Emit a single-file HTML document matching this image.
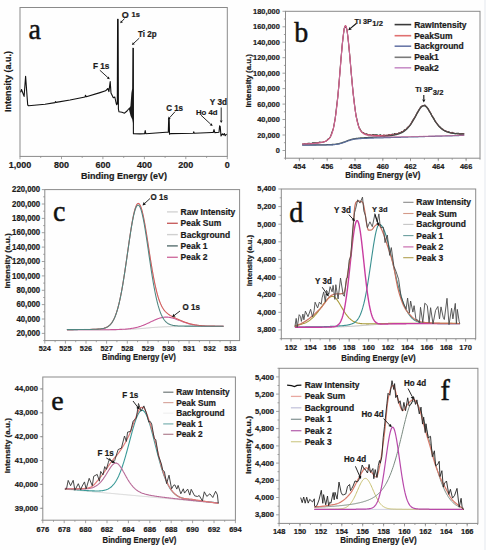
<!DOCTYPE html>
<html><head><meta charset="utf-8"><style>
html,body{margin:0;padding:0;background:#fefefe;}
svg{display:block;}
text{stroke:#1a1a1a;stroke-width:0.2px;}
</style></head><body>
<svg width="486" height="550" viewBox="0 0 486 550">
<rect width="486" height="550" fill="#fefefe"/>
<rect x="484" width="2" height="550" fill="#f1f3f6"/>
<rect x="20" y="7.5" width="207.3" height="148.9" fill="none" stroke="#8a8a8a" stroke-width="1"/>
<path d="M227.3 156.4v2.8M185.8 156.4v2.8M144.4 156.4v2.8M102.9 156.4v2.8M61.5 156.4v2.8M20.0 156.4v2.8" stroke="#8a8a8a" stroke-width="0.8" fill="none"/>
<path d="M206.6 156.4v1.5M165.1 156.4v1.5M123.7 156.4v1.5M82.2 156.4v1.5M40.7 156.4v1.5" stroke="#8a8a8a" stroke-width="0.8" fill="none"/>
<text transform="translate(20.0,168) scale(1,1.03)" font-size="9" text-anchor="middle" font-weight="bold" fill="#1a1a1a" font-family='"Liberation Sans", sans-serif' >1,000</text>
<text transform="translate(61.46000000000001,168) scale(1,1.03)" font-size="9" text-anchor="middle" font-weight="bold" fill="#1a1a1a" font-family='"Liberation Sans", sans-serif' >800</text>
<text transform="translate(102.92000000000002,168) scale(1,1.03)" font-size="9" text-anchor="middle" font-weight="bold" fill="#1a1a1a" font-family='"Liberation Sans", sans-serif' >600</text>
<text transform="translate(144.38,168) scale(1,1.03)" font-size="9" text-anchor="middle" font-weight="bold" fill="#1a1a1a" font-family='"Liberation Sans", sans-serif' >400</text>
<text transform="translate(185.84000000000003,168) scale(1,1.03)" font-size="9" text-anchor="middle" font-weight="bold" fill="#1a1a1a" font-family='"Liberation Sans", sans-serif' >200</text>
<text transform="translate(227.3,168) scale(1,1.03)" font-size="9" text-anchor="middle" font-weight="bold" fill="#1a1a1a" font-family='"Liberation Sans", sans-serif' >0</text>
<text transform="translate(124,178.5) scale(1,1.03)" font-size="9" text-anchor="middle" font-weight="bold" fill="#1a1a1a" font-family='"Liberation Sans", sans-serif' >Binding Energy (eV)</text>
<text transform="translate(10.6,81.5) rotate(-90)" font-size="9" text-anchor="middle" font-weight="bold" fill="#1a1a1a" font-family='"Liberation Sans", sans-serif'>Intensity (a.u.)</text>
<text transform="translate(28.5,39.4) scale(1,1.05)" font-size="28" fill="#111" style="stroke:#111;stroke-width:0.45px" font-family='"Liberation Serif", serif'>a</text>
<path d="M128.8 108.6L130.4 106.2L131.4 93L132.2 88.5L132.5 47.8L133.4 47.8L133.4 125L132.3 119.5L130.6 116L129.6 112Z" fill="#1a1a1a"/>
<path d="M20.6 92.3 L21.5 89.5 L24.1 96.4 L25.6 76.4 L27.7 105 L28.6 105.7 L45 104.2 L55 102.6 L55.4 101.6 L56 102.4 L70 100 L85 97 L85.5 95.2 L86.3 96.8 L100 92.6 L105.6 90.8 L107.9 88.5 L108.9 91.6 L110.2 81.6 L111 93.1 L113.3 97.8 L114.8 97 L116.1 103 L116.7 104.7 L117.3 104 L117.6 19.3 L118.1 19.3 L118.4 109 L119 111.8 L122 112.3 L124.5 113.2 L127 111 L129 108.5 M133.3 48 L133.4 133.8 L140 133.9 L144.6 133.8 L145.2 130.5 L145.8 133.7 L166 132.2 L168.3 132.2 L168.7 118.5 L169.2 118.7 L169.5 134.2 L170.5 133.6 L193.2 133.3 L193.7 131.8 L194.3 133.2 L212 132.5 L213.2 132.5 L214 129.6 L214.8 132.6 L219 132.3 L219.6 125.9 L220.2 126.5 L221 136 L222.4 133.9 L223.3 135 L224.3 133.5 L225.2 135.7 L226.6 134" stroke="#111" stroke-width="1.1" fill="none" stroke-linejoin="round"/>
<text transform="translate(125.2,17.9) scale(1,1.03)" font-size="9" text-anchor="middle" font-weight="bold" fill="#1a1a1a" font-family='"Liberation Sans", sans-serif' >O</text>
<text transform="translate(135.7,17.4) scale(1,1.03)" font-size="7.5" text-anchor="middle" font-weight="bold" fill="#1a1a1a" font-family='"Liberation Sans", sans-serif' >1s</text>
<path d="M124.5 18.5L121.9 21.4" stroke="#111" stroke-width="0.9"/>
<path d="M120.2 23.3L120.9 20.4L123.0 22.3Z" fill="#111"/>
<text transform="translate(147.3,37.3) scale(1,1.03)" font-size="8" text-anchor="middle" font-weight="bold" fill="#1a1a1a" font-family='"Liberation Sans", sans-serif' >Ti 2p</text>
<path d="M139.3 38.1L133.8 43.2" stroke="#111" stroke-width="0.9"/>
<path d="M131.9 45L132.8 42.2L134.8 44.3Z" fill="#111"/>
<text transform="translate(101.2,69.4) scale(1,1.03)" font-size="8.2" text-anchor="middle" font-weight="bold" fill="#1a1a1a" font-family='"Liberation Sans", sans-serif' >F 1s</text>
<path d="M99.8 70.2L107.8 77.5" stroke="#111" stroke-width="0.9"/>
<path d="M109.7 79.3L106.8 78.6L108.7 76.5Z" fill="#111"/>
<text transform="translate(174.6,111.1) scale(1,1.03)" font-size="8" text-anchor="middle" font-weight="bold" fill="#1a1a1a" font-family='"Liberation Sans", sans-serif' >C 1s</text>
<path d="M175.1 111.6L169.7 117.6" stroke="#111" stroke-width="0.9"/>
<path d="M167.9 119.5L168.6 116.6L170.7 118.5Z" fill="#111"/>
<text transform="translate(206.8,114.5) scale(1,1.03)" font-size="7.8" text-anchor="middle" font-weight="bold" fill="#1a1a1a" font-family='"Liberation Sans", sans-serif' >Ho 4d</text>
<path d="M201 115.2L210.7 124.2" stroke="#111" stroke-width="0.9"/>
<path d="M212.6 126L209.7 125.3L211.7 123.2Z" fill="#111"/>
<text transform="translate(218.4,105.4) scale(1,1.03)" font-size="8.2" text-anchor="middle" font-weight="bold" fill="#1a1a1a" font-family='"Liberation Sans", sans-serif' >Y 3d</text>
<path d="M221.2 107.5L221.2 120.5" stroke="#111" stroke-width="0.9"/>
<path d="M221.2 123.1L219.8 120.5L222.6 120.5Z" fill="#111"/>
<rect x="285.5" y="11.3" width="194.5" height="146.9" fill="none" stroke="#8a8a8a" stroke-width="1"/>
<path d="M285.5 150.5h-3M285.5 135.0h-3M285.5 119.5h-3M285.5 104.1h-3M285.5 88.6h-3M285.5 73.2h-3M285.5 57.7h-3M285.5 42.2h-3M285.5 26.8h-3M285.5 11.3h-3" stroke="#8a8a8a" stroke-width="0.8" fill="none"/>
<path d="M285.5 158.2h-1.6M285.5 142.7h-1.6M285.5 127.3h-1.6M285.5 111.8h-1.6M285.5 96.3h-1.6M285.5 80.9h-1.6M285.5 65.4h-1.6M285.5 50.0h-1.6M285.5 34.5h-1.6M285.5 19.0h-1.6" stroke="#8a8a8a" stroke-width="0.8" fill="none"/>
<path d="M299.4 158.2v3M327.2 158.2v3M355.0 158.2v3M382.8 158.2v3M410.5 158.2v3M438.3 158.2v3M466.1 158.2v3" stroke="#8a8a8a" stroke-width="0.8" fill="none"/>
<path d="M285.5 158.2v1.6M299.4 158.2v1.6M313.3 158.2v1.6M327.2 158.2v1.6M341.1 158.2v1.6M355.0 158.2v1.6M368.9 158.2v1.6M382.8 158.2v1.6M396.6 158.2v1.6M410.5 158.2v1.6M424.4 158.2v1.6M438.3 158.2v1.6M452.2 158.2v1.6M466.1 158.2v1.6M480.0 158.2v1.6" stroke="#8a8a8a" stroke-width="0.8" fill="none"/>
<text transform="translate(279.8,152.9) scale(1,1.06)" font-size="7.4" text-anchor="end" font-weight="bold" fill="#1a1a1a" font-family='"Liberation Sans", sans-serif' >0</text>
<text transform="translate(279.8,137.5) scale(1,1.06)" font-size="7.4" text-anchor="end" font-weight="bold" fill="#1a1a1a" font-family='"Liberation Sans", sans-serif' >20,000</text>
<text transform="translate(279.8,122.0) scale(1,1.06)" font-size="7.4" text-anchor="end" font-weight="bold" fill="#1a1a1a" font-family='"Liberation Sans", sans-serif' >40,000</text>
<text transform="translate(279.8,106.5) scale(1,1.06)" font-size="7.4" text-anchor="end" font-weight="bold" fill="#1a1a1a" font-family='"Liberation Sans", sans-serif' >60,000</text>
<text transform="translate(279.8,91.1) scale(1,1.06)" font-size="7.4" text-anchor="end" font-weight="bold" fill="#1a1a1a" font-family='"Liberation Sans", sans-serif' >80,000</text>
<text transform="translate(279.8,75.6) scale(1,1.06)" font-size="7.4" text-anchor="end" font-weight="bold" fill="#1a1a1a" font-family='"Liberation Sans", sans-serif' >100,000</text>
<text transform="translate(279.8,60.1) scale(1,1.06)" font-size="7.4" text-anchor="end" font-weight="bold" fill="#1a1a1a" font-family='"Liberation Sans", sans-serif' >120,000</text>
<text transform="translate(279.8,44.7) scale(1,1.06)" font-size="7.4" text-anchor="end" font-weight="bold" fill="#1a1a1a" font-family='"Liberation Sans", sans-serif' >140,000</text>
<text transform="translate(279.8,29.2) scale(1,1.06)" font-size="7.4" text-anchor="end" font-weight="bold" fill="#1a1a1a" font-family='"Liberation Sans", sans-serif' >160,000</text>
<text transform="translate(279.8,13.8) scale(1,1.06)" font-size="7.4" text-anchor="end" font-weight="bold" fill="#1a1a1a" font-family='"Liberation Sans", sans-serif' >180,000</text>
<text transform="translate(299.4,169) scale(1,1.06)" font-size="7.4" text-anchor="middle" font-weight="bold" fill="#1a1a1a" font-family='"Liberation Sans", sans-serif' >454</text>
<text transform="translate(327.2,169) scale(1,1.06)" font-size="7.4" text-anchor="middle" font-weight="bold" fill="#1a1a1a" font-family='"Liberation Sans", sans-serif' >456</text>
<text transform="translate(355.0,169) scale(1,1.06)" font-size="7.4" text-anchor="middle" font-weight="bold" fill="#1a1a1a" font-family='"Liberation Sans", sans-serif' >458</text>
<text transform="translate(382.8,169) scale(1,1.06)" font-size="7.4" text-anchor="middle" font-weight="bold" fill="#1a1a1a" font-family='"Liberation Sans", sans-serif' >460</text>
<text transform="translate(410.5,169) scale(1,1.06)" font-size="7.4" text-anchor="middle" font-weight="bold" fill="#1a1a1a" font-family='"Liberation Sans", sans-serif' >462</text>
<text transform="translate(438.3,169) scale(1,1.06)" font-size="7.4" text-anchor="middle" font-weight="bold" fill="#1a1a1a" font-family='"Liberation Sans", sans-serif' >464</text>
<text transform="translate(466.1,169) scale(1,1.06)" font-size="7.4" text-anchor="middle" font-weight="bold" fill="#1a1a1a" font-family='"Liberation Sans", sans-serif' >466</text>
<text transform="translate(382.8,177.9) scale(1,1.06)" font-size="7.85" text-anchor="middle" font-weight="bold" fill="#1a1a1a" font-family='"Liberation Sans", sans-serif' >Binding Energy (eV)</text>
<text transform="translate(250.95,80.8) rotate(-90) scale(1.042,1)" font-size="7.6" text-anchor="middle" font-weight="bold" fill="#1a1a1a" font-family='"Liberation Sans", sans-serif'>Intensity (a.u.)</text>
<text transform="translate(294.2,42.3) scale(1,1.05)" font-size="28" fill="#111" style="stroke:#111;stroke-width:0.45px" font-family='"Liberation Serif", serif'>b</text>
<path d="M302.2,144.1 303.4,144.1 305.0,143.7 306.3,144.2 308.1,143.2 309.8,143.2 311.4,143.8 312.7,142.8 314.4,142.7 315.8,142.7 317.7,142.9 319.6,142.1 321.1,142.4 322.7,142.2 324.5,141.7 326.3,141.0 328.0,139.0 329.3,138.5 330.5,136.6 331.8,132.7 333.4,128.4 335.2,118.4 336.5,107.4 337.8,96.8 338.9,84.8 340.7,62.0 342.3,44.0 344.2,28.2 345.5,25.8 347.0,30.0 348.1,39.0 349.7,55.0 351.4,74.9 353.1,92.6 354.7,105.9 356.0,115.5 357.8,123.0 359.1,127.8 360.3,129.4 361.7,132.1 363.5,132.8 365.3,134.1 366.9,133.9 368.1,135.0 369.9,134.7 371.6,135.2 373.0,134.6 374.1,134.7 375.5,134.7 377.3,134.9 378.6,135.6 380.2,134.6 382.0,135.8 383.9,135.1 385.1,135.5 386.5,135.4 387.8,135.3 389.1,134.5 390.4,135.2 392.1,134.1 393.2,134.6 394.7,133.5 395.8,134.1 397.7,133.6 399.0,132.8 400.6,132.6 401.8,131.5 402.9,131.6 404.6,129.7 406.1,129.3 407.5,127.4 409.0,126.1 410.5,124.6 412.3,121.1 413.5,119.0 415.3,116.7 416.4,114.1 418.1,111.2 420.0,108.0 421.2,106.3 423.1,106.0 424.8,105.0 426.5,106.6 428.1,108.6 429.4,111.3 430.7,113.0 431.9,115.8 433.6,117.9 435.2,121.3 437.1,123.5 439.0,126.2 440.2,127.0 441.5,128.8 442.8,129.1 444.4,130.6 445.9,130.9 447.2,131.7 448.7,131.8 450.5,132.8 452.3,132.4 453.8,133.2 455.5,133.7 456.7,133.2 458.5,133.3 459.8,134.2 461.0,133.8 462.5,133.6 464.0,133.9 464.2,134.0" stroke="#2e3a30" stroke-width="1.1" fill="none" stroke-linejoin="round" opacity="1"/>
<path d="M302.2,144.1 302.8,144.1 303.4,144.1 304.0,144.0 304.6,144.0 305.2,144.0 305.8,144.0 306.4,143.9 307.0,143.9 307.6,143.9 308.2,143.8 308.8,143.8 309.4,143.8 310.0,143.7 310.6,143.7 311.2,143.6 311.8,143.6 312.4,143.5 313.0,143.5 313.6,143.4 314.2,143.4 314.8,143.3 315.4,143.3 316.0,143.2 316.6,143.1 317.2,143.0 317.8,143.0 318.4,142.9 319.0,142.8 319.6,142.7 320.2,142.6 320.8,142.5 321.4,142.4 322.0,142.2 322.6,142.1 323.2,141.9 323.8,141.8 324.4,141.6 325.0,141.4 325.6,141.1 326.2,140.9 326.8,140.5 327.4,140.1 328.0,139.7 328.6,139.1 329.2,138.5 329.8,137.7 330.4,136.7 331.0,135.6 331.6,134.2 332.2,132.5 332.8,130.5 333.4,128.2 334.0,125.4 334.6,122.2 335.2,118.5 335.8,114.3 336.4,109.6 337.0,104.4 337.6,98.6 338.2,92.4 338.8,85.8 339.4,78.8 340.0,71.6 340.6,64.3 341.2,57.0 341.8,50.1 342.4,43.5 343.0,37.7 343.6,32.8 344.2,29.0 344.8,26.6 345.4,25.6 346.0,26.1 346.6,28.0 347.2,31.3 347.8,35.7 348.4,41.1 349.0,47.2 349.6,53.8 350.2,60.7 350.8,67.6 351.4,74.5 352.0,81.2 352.6,87.6 353.2,93.6 353.8,99.1 354.4,104.2 355.0,108.7 355.6,112.8 356.2,116.3 356.8,119.4 357.4,122.0 358.0,124.3 358.6,126.2 359.2,127.7 359.8,129.0 360.4,130.1 361.0,131.0 361.6,131.7 362.2,132.3 362.8,132.8 363.4,133.2 364.0,133.6 364.6,133.8 365.2,134.1 365.8,134.3 366.4,134.4 367.0,134.6 367.6,134.7 368.2,134.8 368.8,134.9 369.4,135.0 370.0,135.1 370.6,135.1 371.2,135.2 371.8,135.2 372.4,135.3 373.0,135.3 373.6,135.4 374.2,135.4 374.8,135.4 375.4,135.5 376.0,135.5 376.6,135.5 377.2,135.5 377.8,135.5 378.4,135.5 379.0,135.5 379.6,135.5 380.2,135.5 380.8,135.5 381.4,135.5 382.0,135.5 382.6,135.5 383.2,135.4 383.8,135.4 384.4,135.4 385.0,135.4 385.6,135.3 386.2,135.3 386.8,135.3 387.4,135.2 388.0,135.2 388.6,135.1 389.2,135.1 389.8,135.0 390.4,134.9 391.0,134.9 391.6,134.8 392.2,134.7 392.8,134.7 393.4,134.6 394.0,134.5 394.6,134.4 395.2,134.2 395.8,134.1 396.4,134.0 397.0,133.9 397.6,133.7 398.2,133.5 398.8,133.3 399.4,133.1 400.0,132.9 400.6,132.7 401.2,132.4 401.8,132.1 402.4,131.8 403.0,131.5 403.6,131.1 404.2,130.7 404.8,130.3 405.4,129.9 406.0,129.4 406.6,128.8 407.2,128.3 407.8,127.6 408.4,127.0 409.0,126.3 409.6,125.5 410.2,124.8 410.8,123.9 411.4,123.1 412.0,122.1 412.6,121.2 413.2,120.2 413.8,119.2 414.4,118.1 415.0,117.0 415.6,116.0 416.2,114.8 416.8,113.7 417.4,112.6 418.0,111.6 418.6,110.5 419.2,109.6 419.8,108.6 420.4,107.8 421.0,107.1 421.6,106.5 422.2,106.0 422.8,105.6 423.4,105.5 424.0,105.4 424.6,105.5 425.2,105.8 425.8,106.3 426.4,106.8 427.0,107.5 427.6,108.3 428.2,109.2 428.8,110.1 429.4,111.1 430.0,112.1 430.6,113.2 431.2,114.3 431.8,115.4 432.4,116.4 433.0,117.5 433.6,118.5 434.2,119.5 434.8,120.5 435.4,121.4 436.0,122.3 436.6,123.2 437.2,124.0 437.8,124.8 438.4,125.5 439.0,126.2 439.6,126.8 440.2,127.4 440.8,128.0 441.4,128.5 442.0,129.0 442.6,129.4 443.2,129.8 443.8,130.2 444.4,130.5 445.0,130.8 445.6,131.1 446.2,131.4 446.8,131.6 447.4,131.9 448.0,132.1 448.6,132.2 449.2,132.4 449.8,132.6 450.4,132.7 451.0,132.8 451.6,132.9 452.2,133.0 452.8,133.1 453.4,133.2 454.0,133.3 454.6,133.4 455.2,133.4 455.8,133.5 456.4,133.6 457.0,133.6 457.6,133.7 458.2,133.7 458.8,133.7 459.4,133.8 460.0,133.8 460.6,133.8 461.2,133.9 461.8,133.9 462.4,133.9 463.0,134.0 464.2,134.0" stroke="#d4506e" stroke-width="1.1" fill="none" stroke-linejoin="round" opacity="1"/>
<path d="M302.2,144.9 302.8,144.9 303.4,144.9 304.0,144.9 304.6,144.9 305.2,144.9 305.8,144.9 306.4,144.9 307.0,144.9 307.6,144.9 308.2,144.9 308.8,144.9 309.4,144.9 310.0,144.9 310.6,144.9 311.2,144.9 311.8,144.9 312.4,144.9 313.0,144.9 313.6,144.9 314.2,144.9 314.8,144.9 315.4,144.9 316.0,144.9 316.6,144.9 317.2,144.8 317.8,144.8 318.4,144.8 319.0,144.8 319.6,144.8 320.2,144.8 320.8,144.8 321.4,144.8 322.0,144.8 322.6,144.8 323.2,144.8 323.8,144.8 324.4,144.8 325.0,144.8 325.6,144.8 326.2,144.8 326.8,144.7 327.4,144.7 328.0,144.7 328.6,144.7 329.2,144.7 329.8,144.7 330.4,144.6 331.0,144.6 331.6,144.6 332.2,144.5 332.8,144.5 333.4,144.4 334.0,144.4 334.6,144.3 335.2,144.3 335.8,144.2 336.4,144.1 337.0,144.0 337.6,143.9 338.2,143.8 338.8,143.7 339.4,143.5 340.0,143.4 340.6,143.2 341.2,143.0 341.8,142.8 342.4,142.6 343.0,142.4 343.6,142.2 344.2,142.0 344.8,141.8 345.4,141.5 346.0,141.3 346.6,141.1 347.2,140.8 347.8,140.6 348.4,140.4 349.0,140.2 349.6,140.0 350.2,139.8 350.8,139.6 351.4,139.4 352.0,139.3 352.6,139.1 353.2,139.0 353.8,138.9 354.4,138.8 355.0,138.7 355.6,138.6 356.2,138.5 356.8,138.4 357.4,138.3 358.0,138.3 358.6,138.2 359.2,138.1 359.8,138.1 360.4,138.0 361.0,138.0 361.6,137.9 362.2,137.9 362.8,137.9 363.4,137.8 364.0,137.8 364.6,137.7 365.2,137.7 365.8,137.7 366.4,137.6 367.0,137.6 367.6,137.6 368.2,137.5 368.8,137.5 369.4,137.4 370.0,137.4 370.6,137.4 371.2,137.3 371.8,137.3 372.4,137.3 373.0,137.2 373.6,137.2 374.2,137.1 374.8,137.1 375.4,137.1 376.0,137.0 376.6,137.0 377.2,136.9 377.8,136.9 378.4,136.9 379.0,136.8 379.6,136.8 380.2,136.7 380.8,136.7 381.4,136.6 382.0,136.6 382.6,136.5 383.2,136.5 383.8,136.4 384.4,136.4 385.0,136.3 385.6,136.2 386.2,136.2 386.8,136.1 387.4,136.1 388.0,136.0 388.6,135.9 389.2,135.8 389.8,135.8 390.4,135.7 391.0,135.6 391.6,135.5 392.2,135.4 392.8,135.3 393.4,135.2 394.0,135.1 394.6,135.0 395.2,134.8 395.8,134.7 396.4,134.6 397.0,134.4 397.6,134.2 398.2,134.1 398.8,133.9 399.4,133.7 400.0,133.4 400.6,133.2 401.2,132.9 401.8,132.6 402.4,132.3 403.0,132.0 403.6,131.6 404.2,131.2 404.8,130.7 405.4,130.3 406.0,129.8 406.6,129.2 407.2,128.7 407.8,128.0 408.4,127.4 409.0,126.7 409.6,125.9 410.2,125.1 410.8,124.3 411.4,123.4 412.0,122.5 412.6,121.5 413.2,120.5 413.8,119.5 414.4,118.4 415.0,117.4 415.6,116.3 416.2,115.1 416.8,114.0 417.4,112.9 418.0,111.9 418.6,110.8 419.2,109.8 419.8,108.9 420.4,108.1 421.0,107.3 421.6,106.7 422.2,106.2 422.8,105.9 423.4,105.7 424.0,105.7 424.6,105.8 425.2,106.1 425.8,106.5 426.4,107.0 427.0,107.7 427.6,108.5 428.2,109.4 428.8,110.3 429.4,111.3 430.0,112.3 430.6,113.4 431.2,114.5 431.8,115.6 432.4,116.6 433.0,117.7 433.6,118.7 434.2,119.7 434.8,120.7 435.4,121.6 436.0,122.5 436.6,123.4 437.2,124.2 437.8,124.9 438.4,125.7 439.0,126.3 439.6,127.0 440.2,127.6 440.8,128.1 441.4,128.6 442.0,129.1 442.6,129.6 443.2,130.0 443.8,130.3 444.4,130.7 445.0,131.0 445.6,131.3 446.2,131.5 446.8,131.8 447.4,132.0 448.0,132.2 448.6,132.4 449.2,132.5 449.8,132.7 450.4,132.8 451.0,133.0 451.6,133.1 452.2,133.2 452.8,133.3 453.4,133.3 454.0,133.4 454.6,133.5 455.2,133.6 455.8,133.6 456.4,133.7 457.0,133.7 457.6,133.8 458.2,133.8 458.8,133.9 459.4,133.9 460.0,133.9 460.6,134.0 461.2,134.0 461.8,134.0 462.4,134.0 463.0,134.1 464.2,134.1" stroke="#424c46" stroke-width="1.3" fill="none" stroke-linejoin="round" opacity="1"/>
<path d="M302.2,145.1 302.8,145.1 303.4,145.1 304.0,145.1 304.6,145.1 305.2,145.1 305.8,145.1 306.4,145.1 307.0,145.1 307.6,145.1 308.2,145.1 308.8,145.1 309.4,145.1 310.0,145.1 310.6,145.1 311.2,145.1 311.8,145.1 312.4,145.1 313.0,145.1 313.6,145.1 314.2,145.1 314.8,145.1 315.4,145.1 316.0,145.1 316.6,145.0 317.2,145.0 317.8,145.0 318.4,145.0 319.0,145.0 319.6,145.0 320.2,145.0 320.8,145.0 321.4,145.0 322.0,145.0 322.6,145.0 323.2,145.0 323.8,145.0 324.4,145.0 325.0,145.0 325.6,145.0 326.2,145.0 326.8,145.0 327.4,145.0 328.0,145.0 328.6,144.9 329.2,144.9 329.8,144.9 330.4,144.9 331.0,144.9 331.6,144.8 332.2,144.8 332.8,144.8 333.4,144.7 334.0,144.7 334.6,144.6 335.2,144.5 335.8,144.5 336.4,144.4 337.0,144.3 337.6,144.2 338.2,144.1 338.8,144.0 339.4,143.8 340.0,143.7 340.6,143.5 341.2,143.4 341.8,143.2 342.4,143.0 343.0,142.8 343.6,142.6 344.2,142.4 344.8,142.1 345.4,141.9 346.0,141.7 346.6,141.4 347.2,141.2 347.8,141.0 348.4,140.8 349.0,140.6 349.6,140.4 350.2,140.2 350.8,140.0 351.4,139.8 352.0,139.7 352.6,139.6 353.2,139.4 353.8,139.3 354.4,139.2 355.0,139.1 355.6,139.0 356.2,139.0 356.8,138.9 357.4,138.8 358.0,138.8 358.6,138.7 359.2,138.7 359.8,138.6 360.4,138.6 361.0,138.6 361.6,138.5 362.2,138.5 362.8,138.5 363.4,138.4 364.0,138.4 364.6,138.4 365.2,138.3 365.8,138.3 366.4,138.3 367.0,138.3 367.6,138.2 368.2,138.2 368.8,138.2 369.4,138.2 370.0,138.2 370.6,138.1 371.2,138.1 371.8,138.1 372.4,138.1 373.0,138.1 373.6,138.1 374.2,138.0 374.8,138.0 375.4,138.0 376.0,138.0 376.6,138.0 377.2,137.9 377.8,137.9 378.4,137.9 379.0,137.9 379.6,137.9 380.2,137.9 380.8,137.8 381.4,137.8 382.0,137.8 382.6,137.8 383.2,137.8 383.8,137.7 384.4,137.7 385.0,137.7 385.6,137.7 386.2,137.7 386.8,137.7 387.4,137.6 388.0,137.6 388.6,137.6 389.2,137.6 389.8,137.6 390.4,137.6 391.0,137.5 391.6,137.5 392.2,137.5 392.8,137.5 393.4,137.5 394.0,137.5 394.6,137.4 395.2,137.4 395.8,137.4 396.4,137.4 397.0,137.4 397.6,137.3 398.2,137.3 398.8,137.3 399.4,137.3 400.0,137.3 400.6,137.3 401.2,137.2 401.8,137.2 402.4,137.2 403.0,137.2 403.6,137.2 404.2,137.2 404.8,137.1 405.4,137.1 406.0,137.1 406.6,137.1 407.2,137.1 407.8,137.1 408.4,137.0 409.0,137.0 409.6,137.0 410.2,137.0 410.8,137.0 411.4,136.9 412.0,136.9 412.6,136.9 413.2,136.9 413.8,136.9 414.4,136.9 415.0,136.8 415.6,136.8 416.2,136.8 416.8,136.8 417.4,136.8 418.0,136.8 418.6,136.7 419.2,136.7 419.8,136.7 420.4,136.7 421.0,136.7 421.6,136.6 422.2,136.6 422.8,136.6 423.4,136.6 424.0,136.6 424.6,136.6 425.2,136.5 425.8,136.5 426.4,136.5 427.0,136.5 427.6,136.5 428.2,136.5 428.8,136.4 429.4,136.4 430.0,136.4 430.6,136.4 431.2,136.4 431.8,136.4 432.4,136.3 433.0,136.3 433.6,136.3 434.2,136.3 434.8,136.3 435.4,136.2 436.0,136.2 436.6,136.2 437.2,136.2 437.8,136.2 438.4,136.2 439.0,136.1 439.6,136.1 440.2,136.1 440.8,136.1 441.4,136.1 442.0,136.1 442.6,136.0 443.2,136.0 443.8,136.0 444.4,136.0 445.0,136.0 445.6,135.9 446.2,135.9 446.8,135.9 447.4,135.9 448.0,135.9 448.6,135.9 449.2,135.8 449.8,135.8 450.4,135.8 451.0,135.8 451.6,135.8 452.2,135.8 452.8,135.7 453.4,135.7 454.0,135.7 454.6,135.7 455.2,135.7 455.8,135.7 456.4,135.6 457.0,135.6 457.6,135.6 458.2,135.6 458.8,135.6 459.4,135.5 460.0,135.5 460.6,135.5 461.2,135.5 461.8,135.5 462.4,135.5 463.0,135.4 464.2,135.4" stroke="#5a6e9c" stroke-width="1.2" fill="none" stroke-linejoin="round" opacity="1"/>
<path d="M302.2,144.3 302.8,144.2 303.4,144.2 304.0,144.2 304.6,144.2 305.2,144.1 305.8,144.1 306.4,144.1 307.0,144.1 307.6,144.0 308.2,144.0 308.8,144.0 309.4,143.9 310.0,143.9 310.6,143.8 311.2,143.8 311.8,143.8 312.4,143.7 313.0,143.7 313.6,143.6 314.2,143.6 314.8,143.5 315.4,143.4 316.0,143.4 316.6,143.3 317.2,143.2 317.8,143.2 318.4,143.1 319.0,143.0 319.6,142.9 320.2,142.8 320.8,142.7 321.4,142.6 322.0,142.5 322.6,142.3 323.2,142.2 323.8,142.0 324.4,141.8 325.0,141.6 325.6,141.4 326.2,141.1 326.8,140.8 327.4,140.4 328.0,139.9 328.6,139.4 329.2,138.7 329.8,137.9 330.4,137.0 331.0,135.8 331.6,134.5 332.2,132.8 332.8,130.8 333.4,128.5 334.0,125.7 334.6,122.5 335.2,118.8 335.8,114.6 336.4,109.9 337.0,104.7 337.6,98.9 338.2,92.7 338.8,86.1 339.4,79.1 340.0,71.9 340.6,64.6 341.2,57.4 341.8,50.4 342.4,43.9 343.0,38.0 343.6,33.1 344.2,29.4 344.8,26.9 345.4,25.9 346.0,26.4 346.6,28.4 347.2,31.7 347.8,36.1 348.4,41.5 349.0,47.6 349.6,54.2 350.2,61.1 350.8,68.1 351.4,74.9 352.0,81.6 352.6,88.0 353.2,94.0 353.8,99.6 354.4,104.6 355.0,109.2 355.6,113.2 356.2,116.8 356.8,119.9 357.4,122.5 358.0,124.8 358.6,126.7 359.2,128.3 359.8,129.6 360.4,130.7 361.0,131.6 361.6,132.3 362.2,132.9 362.8,133.4 363.4,133.8 364.0,134.2 364.6,134.5 365.2,134.7 365.8,134.9 366.4,135.1 367.0,135.3 367.6,135.4 368.2,135.5 368.8,135.6 369.4,135.7 370.0,135.8 370.6,135.9 371.2,136.0 371.8,136.1 372.4,136.1 373.0,136.2 373.6,136.2 374.2,136.3 374.8,136.3 375.4,136.4 376.0,136.4 376.6,136.5 377.2,136.5 377.8,136.5 378.4,136.6 379.0,136.6 379.6,136.6 380.2,136.6 380.8,136.7 381.4,136.7 382.0,136.7 382.6,136.7 383.2,136.7 383.8,136.8 384.4,136.8 385.0,136.8 385.6,136.8 386.2,136.8 386.8,136.8 387.4,136.8 388.0,136.8 388.6,136.8 389.2,136.8 389.8,136.8 390.4,136.8 391.0,136.8 391.6,136.8 392.2,136.8 392.8,136.8 393.4,136.8 394.0,136.8 394.6,136.8 395.2,136.8 395.8,136.8 396.4,136.8 397.0,136.8 397.6,136.8 398.2,136.8 398.8,136.8 399.4,136.8 400.0,136.8 400.6,136.8 401.2,136.8 401.8,136.8 402.4,136.7 403.0,136.7 403.6,136.7 404.2,136.7 404.8,136.7 405.4,136.7 406.0,136.7 406.6,136.7 407.2,136.7 407.8,136.7 408.4,136.7 409.0,136.6 409.6,136.6 410.2,136.6 410.8,136.6 411.4,136.6 412.0,136.6 412.6,136.6 413.2,136.6 413.8,136.6 414.4,136.5 415.0,136.5 415.6,136.5 416.2,136.5 416.8,136.5 417.4,136.5 418.0,136.5 418.6,136.5 419.2,136.4 419.8,136.4 420.4,136.4 421.0,136.4 421.6,136.4 422.2,136.4 422.8,136.4 423.4,136.3 424.0,136.3 424.6,136.3 425.2,136.3 425.8,136.3 426.4,136.3 427.0,136.3 427.6,136.3 428.2,136.2 428.8,136.2 429.4,136.2 430.0,136.2 430.6,136.2 431.2,136.2 431.8,136.1 432.4,136.1 433.0,136.1 433.6,136.1 434.2,136.1 434.8,136.1 435.4,136.1 436.0,136.0 436.6,136.0 437.2,136.0 437.8,136.0 438.4,136.0 439.0,136.0 439.6,136.0 440.2,135.9 440.8,135.9 441.4,135.9 442.0,135.9 442.6,135.9 443.2,135.9 443.8,135.8 444.4,135.8 445.0,135.8 445.6,135.8 446.2,135.8 446.8,135.8 447.4,135.8 448.0,135.7 448.6,135.7 449.2,135.7 449.8,135.7 450.4,135.7 451.0,135.7 451.6,135.6 452.2,135.6 452.8,135.6 453.4,135.6 454.0,135.6 454.6,135.6 455.2,135.5 455.8,135.5 456.4,135.5 457.0,135.5 457.6,135.5 458.2,135.5 458.8,135.4 459.4,135.4 460.0,135.4 460.6,135.4 461.2,135.4 461.8,135.4 462.4,135.3 463.0,135.3 464.2,135.3" stroke="#c86a9a" stroke-width="1.0" fill="none" stroke-linejoin="round" opacity="1"/>
<path d="M394.6 24.6H411.2" stroke="#3a3a3a" stroke-width="1.6"/>
<text transform="translate(414.2,27.6) scale(1,1.06)" font-size="8.5" text-anchor="start" font-weight="bold" fill="#1a1a1a" font-family='"Liberation Sans", sans-serif' >RawIntensity</text>
<path d="M394.6 35.7H411.2" stroke="#e07070" stroke-width="1.6"/>
<text transform="translate(414.2,38.7) scale(1,1.06)" font-size="8.5" text-anchor="start" font-weight="bold" fill="#1a1a1a" font-family='"Liberation Sans", sans-serif' >PeakSum</text>
<path d="M394.6 46.2H411.2" stroke="#6a78a8" stroke-width="1.6"/>
<text transform="translate(414.2,49.2) scale(1,1.06)" font-size="8.5" text-anchor="start" font-weight="bold" fill="#1a1a1a" font-family='"Liberation Sans", sans-serif' >Background</text>
<path d="M394.6 57.3H411.2" stroke="#7a7a7a" stroke-width="1.6"/>
<text transform="translate(414.2,60.3) scale(1,1.06)" font-size="8.5" text-anchor="start" font-weight="bold" fill="#1a1a1a" font-family='"Liberation Sans", sans-serif' >Peak1</text>
<path d="M394.6 67.8H411.2" stroke="#c890c8" stroke-width="1.6"/>
<text transform="translate(414.2,70.8) scale(1,1.06)" font-size="8.5" text-anchor="start" font-weight="bold" fill="#1a1a1a" font-family='"Liberation Sans", sans-serif' >Peak2</text>
<text transform="translate(354.6,23.6) scale(1,1.06)" font-size="7.35" text-anchor="start" font-weight="bold" fill="#1a1a1a" font-family='"Liberation Sans", sans-serif' >Ti 3P</text>
<text transform="translate(372.3,26.3) scale(1,1.06)" font-size="7.6" text-anchor="start" font-weight="bold" fill="#1a1a1a" font-family='"Liberation Sans", sans-serif' >1/2</text>
<path d="M356.3 23.5L350.7 28.2" stroke="#111" stroke-width="1.1"/>
<path d="M348.2 30.3L349.6 27.0L351.7 29.5Z" fill="#111"/>
<text transform="translate(415.2,92.3) scale(1,1.06)" font-size="7.35" text-anchor="start" font-weight="bold" fill="#1a1a1a" font-family='"Liberation Sans", sans-serif' >Ti 3P</text>
<text transform="translate(432.8,94.9) scale(1,1.06)" font-size="7.6" text-anchor="start" font-weight="bold" fill="#1a1a1a" font-family='"Liberation Sans", sans-serif' >3/2</text>
<path d="M423.8 94.9L423.8 99.4" stroke="#111" stroke-width="1.1"/>
<path d="M423.8 102.6L422.2 99.4L425.4 99.4Z" fill="#111"/>
<rect x="44.8" y="189.6" width="194.8" height="151.0" fill="none" stroke="#8a8a8a" stroke-width="1"/>
<path d="M44.8 333.4h-3M44.8 319.0h-3M44.8 304.6h-3M44.8 290.3h-3M44.8 275.9h-3M44.8 261.5h-3M44.8 247.1h-3M44.8 232.7h-3M44.8 218.4h-3M44.8 204.0h-3M44.8 189.6h-3" stroke="#8a8a8a" stroke-width="0.8" fill="none"/>
<path d="M44.8 340.6h-1.6M44.8 326.2h-1.6M44.8 311.8h-1.6M44.8 297.5h-1.6M44.8 283.1h-1.6M44.8 268.7h-1.6M44.8 254.3h-1.6M44.8 239.9h-1.6M44.8 225.6h-1.6M44.8 211.2h-1.6M44.8 196.8h-1.6" stroke="#8a8a8a" stroke-width="0.8" fill="none"/>
<path d="M44.8 340.6v3M65.4 340.6v3M86.0 340.6v3M106.6 340.6v3M127.3 340.6v3M147.9 340.6v3M168.5 340.6v3M189.1 340.6v3M209.7 340.6v3M230.3 340.6v3" stroke="#8a8a8a" stroke-width="0.8" fill="none"/>
<path d="M55.1 340.6v1.6M75.7 340.6v1.6M96.3 340.6v1.6M116.9 340.6v1.6M137.6 340.6v1.6M158.2 340.6v1.6M178.8 340.6v1.6M199.4 340.6v1.6M220.0 340.6v1.6" stroke="#8a8a8a" stroke-width="0.8" fill="none"/>
<text transform="translate(40.2,336.0) scale(1,1.06)" font-size="7.8" text-anchor="end" font-weight="bold" fill="#1a1a1a" font-family='"Liberation Sans", sans-serif' >20,000</text>
<text transform="translate(40.2,321.6) scale(1,1.06)" font-size="7.8" text-anchor="end" font-weight="bold" fill="#1a1a1a" font-family='"Liberation Sans", sans-serif' >40,000</text>
<text transform="translate(40.2,307.2) scale(1,1.06)" font-size="7.8" text-anchor="end" font-weight="bold" fill="#1a1a1a" font-family='"Liberation Sans", sans-serif' >60,000</text>
<text transform="translate(40.2,292.9) scale(1,1.06)" font-size="7.8" text-anchor="end" font-weight="bold" fill="#1a1a1a" font-family='"Liberation Sans", sans-serif' >80,000</text>
<text transform="translate(40.2,278.5) scale(1,1.06)" font-size="7.8" text-anchor="end" font-weight="bold" fill="#1a1a1a" font-family='"Liberation Sans", sans-serif' >100,000</text>
<text transform="translate(40.2,264.1) scale(1,1.06)" font-size="7.8" text-anchor="end" font-weight="bold" fill="#1a1a1a" font-family='"Liberation Sans", sans-serif' >120,000</text>
<text transform="translate(40.2,249.7) scale(1,1.06)" font-size="7.8" text-anchor="end" font-weight="bold" fill="#1a1a1a" font-family='"Liberation Sans", sans-serif' >140,000</text>
<text transform="translate(40.2,235.3) scale(1,1.06)" font-size="7.8" text-anchor="end" font-weight="bold" fill="#1a1a1a" font-family='"Liberation Sans", sans-serif' >160,000</text>
<text transform="translate(40.2,221.0) scale(1,1.06)" font-size="7.8" text-anchor="end" font-weight="bold" fill="#1a1a1a" font-family='"Liberation Sans", sans-serif' >180,000</text>
<text transform="translate(40.2,206.6) scale(1,1.06)" font-size="7.8" text-anchor="end" font-weight="bold" fill="#1a1a1a" font-family='"Liberation Sans", sans-serif' >200,000</text>
<text transform="translate(40.2,192.2) scale(1,1.06)" font-size="7.8" text-anchor="end" font-weight="bold" fill="#1a1a1a" font-family='"Liberation Sans", sans-serif' >220,000</text>
<text transform="translate(44.8,350.9) scale(1,1.06)" font-size="7.4" text-anchor="middle" font-weight="bold" fill="#1a1a1a" font-family='"Liberation Sans", sans-serif' >524</text>
<text transform="translate(65.4,350.9) scale(1,1.06)" font-size="7.4" text-anchor="middle" font-weight="bold" fill="#1a1a1a" font-family='"Liberation Sans", sans-serif' >525</text>
<text transform="translate(86.0,350.9) scale(1,1.06)" font-size="7.4" text-anchor="middle" font-weight="bold" fill="#1a1a1a" font-family='"Liberation Sans", sans-serif' >526</text>
<text transform="translate(106.6,350.9) scale(1,1.06)" font-size="7.4" text-anchor="middle" font-weight="bold" fill="#1a1a1a" font-family='"Liberation Sans", sans-serif' >527</text>
<text transform="translate(127.3,350.9) scale(1,1.06)" font-size="7.4" text-anchor="middle" font-weight="bold" fill="#1a1a1a" font-family='"Liberation Sans", sans-serif' >528</text>
<text transform="translate(147.9,350.9) scale(1,1.06)" font-size="7.4" text-anchor="middle" font-weight="bold" fill="#1a1a1a" font-family='"Liberation Sans", sans-serif' >529</text>
<text transform="translate(168.5,350.9) scale(1,1.06)" font-size="7.4" text-anchor="middle" font-weight="bold" fill="#1a1a1a" font-family='"Liberation Sans", sans-serif' >530</text>
<text transform="translate(189.1,350.9) scale(1,1.06)" font-size="7.4" text-anchor="middle" font-weight="bold" fill="#1a1a1a" font-family='"Liberation Sans", sans-serif' >531</text>
<text transform="translate(209.7,350.9) scale(1,1.06)" font-size="7.4" text-anchor="middle" font-weight="bold" fill="#1a1a1a" font-family='"Liberation Sans", sans-serif' >532</text>
<text transform="translate(230.3,350.9) scale(1,1.06)" font-size="7.4" text-anchor="middle" font-weight="bold" fill="#1a1a1a" font-family='"Liberation Sans", sans-serif' >533</text>
<text transform="translate(139,360.2) scale(1,1.06)" font-size="7.75" text-anchor="middle" font-weight="bold" fill="#1a1a1a" font-family='"Liberation Sans", sans-serif' >Binding Energy (eV)</text>
<text transform="translate(9.85,260.85) rotate(-90) scale(1.076,1)" font-size="7.6" text-anchor="middle" font-weight="bold" fill="#1a1a1a" font-family='"Liberation Sans", sans-serif'>Intensity (a.u.)</text>
<text transform="translate(53.1,221.4) scale(1,1.05)" font-size="28" fill="#111" style="stroke:#111;stroke-width:0.45px" font-family='"Liberation Serif", serif'>c</text>
<path d="M66.9,329.8 67.5,329.8 68.1,329.8 68.7,329.8 69.3,329.8 69.9,329.8 70.5,329.8 71.1,329.8 71.7,329.8 72.3,329.8 72.9,329.8 73.5,329.8 74.1,329.8 74.7,329.8 75.3,329.8 75.9,329.8 76.5,329.8 77.1,329.8 77.7,329.8 78.3,329.8 78.9,329.8 79.5,329.8 80.1,329.8 80.7,329.8 81.3,329.8 81.9,329.8 82.5,329.8 83.1,329.8 83.7,329.8 84.3,329.8 84.9,329.8 85.5,329.8 86.1,329.8 86.7,329.8 87.3,329.8 87.9,329.8 88.5,329.8 89.1,329.8 89.7,329.8 90.3,329.8 90.9,329.8 91.5,329.8 92.1,329.8 92.7,329.8 93.3,329.8 93.9,329.8 94.5,329.8 95.1,329.8 95.7,329.8 96.3,329.8 96.9,329.8 97.5,329.8 98.1,329.8 98.7,329.8 99.3,329.8 99.9,329.8 100.5,329.8 101.1,329.8 101.7,329.8 102.3,329.8 102.9,329.8 103.5,329.8 104.1,329.8 104.7,329.8 105.3,329.8 105.9,329.8 106.5,329.8 107.1,329.8 107.7,329.8 108.3,329.8 108.9,329.8 109.5,329.7 110.1,329.7 110.7,329.7 111.3,329.7 111.9,329.7 112.5,329.7 113.1,329.7 113.7,329.7 114.3,329.7 114.9,329.7 115.5,329.7 116.1,329.7 116.7,329.7 117.3,329.7 117.9,329.7 118.5,329.6 119.1,329.6 119.7,329.6 120.3,329.6 120.9,329.6 121.5,329.6 122.1,329.6 122.7,329.6 123.3,329.5 123.9,329.5 124.5,329.5 125.1,329.5 125.7,329.5 126.3,329.4 126.9,329.4 127.5,329.4 128.1,329.4 128.7,329.4 129.3,329.3 129.9,329.3 130.5,329.3 131.1,329.2 131.7,329.2 132.3,329.2 132.9,329.1 133.5,329.1 134.1,329.1 134.7,329.0 135.3,329.0 135.9,329.0 136.5,328.9 137.1,328.9 137.7,328.8 138.3,328.8 138.9,328.7 139.5,328.7 140.1,328.6 140.7,328.6 141.3,328.5 141.9,328.5 142.5,328.4 143.1,328.4 143.7,328.3 144.3,328.3 144.9,328.2 145.5,328.2 146.1,328.1 146.7,328.0 147.3,328.0 147.9,327.9 148.5,327.9 149.1,327.8 149.7,327.8 150.3,327.7 150.9,327.7 151.5,327.6 152.1,327.6 152.7,327.5 153.3,327.5 153.9,327.4 154.5,327.4 155.1,327.3 155.7,327.3 156.3,327.3 156.9,327.2 157.5,327.2 158.1,327.1 158.7,327.1 159.3,327.1 159.9,327.0 160.5,327.0 161.1,327.0 161.7,327.0 162.3,326.9 162.9,326.9 163.5,326.9 164.1,326.8 164.7,326.8 165.3,326.8 165.9,326.8 166.5,326.8 167.1,326.7 167.7,326.7 168.3,326.7 168.9,326.7 169.5,326.7 170.1,326.7 170.7,326.7 171.3,326.6 171.9,326.6 172.5,326.6 173.1,326.6 173.7,326.6 174.3,326.6 174.9,326.6 175.5,326.6 176.1,326.6 176.7,326.6 177.3,326.5 177.9,326.5 178.5,326.5 179.1,326.5 179.7,326.5 180.3,326.5 180.9,326.5 181.5,326.5 182.1,326.5 182.7,326.5 183.3,326.5 183.9,326.5 184.5,326.5 185.1,326.5 185.7,326.5 186.3,326.5 186.9,326.5 187.5,326.5 188.1,326.5 188.7,326.5 189.3,326.5 189.9,326.5 190.5,326.5 191.1,326.5 191.7,326.5 192.3,326.5 192.9,326.5 193.5,326.5 194.1,326.5 194.7,326.5 195.3,326.5 195.9,326.5 196.5,326.4 197.1,326.4 197.7,326.4 198.3,326.4 198.9,326.4 199.5,326.4 200.1,326.4 200.7,326.4 201.3,326.4 201.9,326.4 202.5,326.4 203.1,326.4 203.7,326.4 204.3,326.4 204.9,326.4 205.5,326.4 206.1,326.4 206.7,326.4 207.3,326.4 207.9,326.4 208.5,326.4 209.1,326.4 209.7,326.4 210.3,326.4 210.9,326.4 211.5,326.4 212.1,326.4 212.7,326.4 213.3,326.4 213.9,326.4 214.5,326.4 215.1,326.4 215.7,326.4 216.3,326.4 216.9,326.4 217.5,326.4 218.1,326.4 218.7,326.4 219.3,326.4 219.9,326.4 220.5,326.4 221.1,326.4 221.7,326.4 222.3,326.4 222.9,326.4 223.5,326.4" stroke="#c8c8c8" stroke-width="1.0" fill="none" stroke-linejoin="round" opacity="1"/>
<path d="M66.9,329.8 67.5,329.8 68.1,329.8 68.7,329.8 69.3,329.8 69.9,329.8 70.5,329.8 71.1,329.8 71.7,329.8 72.3,329.8 72.9,329.8 73.5,329.8 74.1,329.8 74.7,329.8 75.3,329.8 75.9,329.8 76.5,329.8 77.1,329.8 77.7,329.8 78.3,329.8 78.9,329.8 79.5,329.8 80.1,329.8 80.7,329.8 81.3,329.8 81.9,329.8 82.5,329.8 83.1,329.8 83.7,329.8 84.3,329.8 84.9,329.8 85.5,329.8 86.1,329.8 86.7,329.8 87.3,329.8 87.9,329.8 88.5,329.8 89.1,329.8 89.7,329.8 90.3,329.8 90.9,329.8 91.5,329.8 92.1,329.8 92.7,329.8 93.3,329.8 93.9,329.7 94.5,329.7 95.1,329.7 95.7,329.7 96.3,329.7 96.9,329.7 97.5,329.7 98.1,329.7 98.7,329.7 99.3,329.7 99.9,329.7 100.5,329.7 101.1,329.7 101.7,329.7 102.3,329.7 102.9,329.7 103.5,329.7 104.1,329.7 104.7,329.7 105.3,329.7 105.9,329.7 106.5,329.7 107.1,329.7 107.7,329.7 108.3,329.7 108.9,329.7 109.5,329.7 110.1,329.7 110.7,329.6 111.3,329.6 111.9,329.6 112.5,329.6 113.1,329.6 113.7,329.6 114.3,329.6 114.9,329.6 115.5,329.6 116.1,329.6 116.7,329.5 117.3,329.5 117.9,329.5 118.5,329.5 119.1,329.5 119.7,329.4 120.3,329.4 120.9,329.4 121.5,329.4 122.1,329.3 122.7,329.3 123.3,329.3 123.9,329.2 124.5,329.2 125.1,329.2 125.7,329.1 126.3,329.1 126.9,329.0 127.5,329.0 128.1,328.9 128.7,328.8 129.3,328.8 129.9,328.7 130.5,328.6 131.1,328.5 131.7,328.4 132.3,328.3 132.9,328.2 133.5,328.1 134.1,328.0 134.7,327.9 135.3,327.8 135.9,327.6 136.5,327.5 137.1,327.3 137.7,327.2 138.3,327.0 138.9,326.8 139.5,326.6 140.1,326.5 140.7,326.3 141.3,326.0 141.9,325.8 142.5,325.6 143.1,325.4 143.7,325.1 144.3,324.9 144.9,324.6 145.5,324.4 146.1,324.1 146.7,323.8 147.3,323.6 147.9,323.3 148.5,323.0 149.1,322.7 149.7,322.4 150.3,322.1 150.9,321.8 151.5,321.6 152.1,321.3 152.7,321.0 153.3,320.7 153.9,320.4 154.5,320.1 155.1,319.9 155.7,319.6 156.3,319.4 156.9,319.1 157.5,318.9 158.1,318.6 158.7,318.4 159.3,318.2 159.9,318.0 160.5,317.9 161.1,317.7 161.7,317.6 162.3,317.5 162.9,317.3 163.5,317.3 164.1,317.2 164.7,317.1 165.3,317.1 165.9,317.1 166.5,317.1 167.1,317.1 167.7,317.1 168.3,317.2 168.9,317.3 169.5,317.4 170.1,317.5 170.7,317.6 171.3,317.7 171.9,317.9 172.5,318.0 173.1,318.2 173.7,318.4 174.3,318.6 174.9,318.8 175.5,319.0 176.1,319.2 176.7,319.4 177.3,319.7 177.9,319.9 178.5,320.1 179.1,320.4 179.7,320.6 180.3,320.8 180.9,321.1 181.5,321.3 182.1,321.5 182.7,321.7 183.3,322.0 183.9,322.2 184.5,322.4 185.1,322.6 185.7,322.8 186.3,323.0 186.9,323.2 187.5,323.4 188.1,323.6 188.7,323.7 189.3,323.9 189.9,324.1 190.5,324.2 191.1,324.4 191.7,324.5 192.3,324.6 192.9,324.8 193.5,324.9 194.1,325.0 194.7,325.1 195.3,325.2 195.9,325.3 196.5,325.4 197.1,325.4 197.7,325.5 198.3,325.6 198.9,325.7 199.5,325.7 200.1,325.8 200.7,325.8 201.3,325.9 201.9,325.9 202.5,325.9 203.1,326.0 203.7,326.0 204.3,326.1 204.9,326.1 205.5,326.1 206.1,326.1 206.7,326.2 207.3,326.2 207.9,326.2 208.5,326.2 209.1,326.2 209.7,326.2 210.3,326.2 210.9,326.3 211.5,326.3 212.1,326.3 212.7,326.3 213.3,326.3 213.9,326.3 214.5,326.3 215.1,326.3 215.7,326.3 216.3,326.3 216.9,326.3 217.5,326.3 218.1,326.3 218.7,326.3 219.3,326.3 219.9,326.3 220.5,326.3 221.1,326.3 221.7,326.4 222.3,326.4 222.9,326.4 223.5,326.4" stroke="#c8589a" stroke-width="1.1" fill="none" stroke-linejoin="round" opacity="1"/>
<path d="M66.9,329.6 67.5,329.6 68.1,329.6 68.7,329.6 69.3,329.6 69.9,329.6 70.5,329.6 71.1,329.6 71.7,329.6 72.3,329.6 72.9,329.6 73.5,329.6 74.1,329.5 74.7,329.5 75.3,329.5 75.9,329.5 76.5,329.5 77.1,329.5 77.7,329.5 78.3,329.5 78.9,329.5 79.5,329.5 80.1,329.5 80.7,329.5 81.3,329.5 81.9,329.5 82.5,329.5 83.1,329.5 83.7,329.5 84.3,329.4 84.9,329.4 85.5,329.4 86.1,329.4 86.7,329.4 87.3,329.4 87.9,329.4 88.5,329.4 89.1,329.4 89.7,329.4 90.3,329.4 90.9,329.3 91.5,329.3 92.1,329.3 92.7,329.3 93.3,329.3 93.9,329.3 94.5,329.2 95.1,329.2 95.7,329.2 96.3,329.2 96.9,329.1 97.5,329.1 98.1,329.1 98.7,329.0 99.3,329.0 99.9,328.9 100.5,328.9 101.1,328.8 101.7,328.7 102.3,328.6 102.9,328.5 103.5,328.4 104.1,328.2 104.7,328.0 105.3,327.8 105.9,327.6 106.5,327.3 107.1,327.0 107.7,326.7 108.3,326.3 108.9,325.8 109.5,325.3 110.1,324.8 110.7,324.1 111.3,323.4 111.9,322.6 112.5,321.6 113.1,320.6 113.7,319.5 114.3,318.3 114.9,316.9 115.5,315.4 116.1,313.7 116.7,311.9 117.3,310.0 117.9,307.8 118.5,305.6 119.1,303.1 119.7,300.5 120.3,297.7 120.9,294.7 121.5,291.6 122.1,288.3 122.7,284.8 123.3,281.2 123.9,277.5 124.5,273.6 125.1,269.6 125.7,265.5 126.3,261.4 126.9,257.2 127.5,253.0 128.1,248.8 128.7,244.5 129.3,240.4 129.9,236.3 130.5,232.4 131.1,228.5 131.7,224.9 132.3,221.4 132.9,218.2 133.5,215.2 134.1,212.5 134.7,210.2 135.3,208.1 135.9,206.4 136.5,205.1 137.1,204.1 137.7,203.6 138.3,203.4 138.9,203.6 139.5,204.2 140.1,205.2 140.7,206.5 141.3,208.2 141.9,210.2 142.5,212.5 143.1,215.1 143.7,218.0 144.3,221.1 144.9,224.4 145.5,227.9 146.1,231.5 146.7,235.2 147.3,239.0 147.9,242.9 148.5,246.8 149.1,250.7 149.7,254.5 150.3,258.3 150.9,262.1 151.5,265.7 152.1,269.3 152.7,272.7 153.3,276.0 153.9,279.2 154.5,282.2 155.1,285.0 155.7,287.7 156.3,290.2 156.9,292.6 157.5,294.8 158.1,296.9 158.7,298.8 159.3,300.5 159.9,302.1 160.5,303.6 161.1,304.9 161.7,306.2 162.3,307.3 162.9,308.3 163.5,309.2 164.1,310.1 164.7,310.8 165.3,311.5 165.9,312.1 166.5,312.7 167.1,313.2 167.7,313.7 168.3,314.2 168.9,314.6 169.5,315.0 170.1,315.4 170.7,315.7 171.3,316.0 171.9,316.4 172.5,316.7 173.1,317.0 173.7,317.3 174.3,317.6 174.9,317.8 175.5,318.1 176.1,318.4 176.7,318.7 177.3,318.9 177.9,319.2 178.5,319.5 179.1,319.8 179.7,320.0 180.3,320.3 180.9,320.5 181.5,320.8 182.1,321.0 182.7,321.3 183.3,321.5 183.9,321.7 184.5,322.0 185.1,322.2 185.7,322.4 186.3,322.6 186.9,322.8 187.5,323.0 188.1,323.2 188.7,323.4 189.3,323.6 189.9,323.7 190.5,323.9 191.1,324.0 191.7,324.2 192.3,324.3 192.9,324.4 193.5,324.6 194.1,324.7 194.7,324.8 195.3,324.9 195.9,325.0 196.5,325.1 197.1,325.2 197.7,325.3 198.3,325.3 198.9,325.4 199.5,325.5 200.1,325.5 200.7,325.6 201.3,325.6 201.9,325.7 202.5,325.7 203.1,325.8 203.7,325.8 204.3,325.8 204.9,325.9 205.5,325.9 206.1,325.9 206.7,326.0 207.3,326.0 207.9,326.0 208.5,326.0 209.1,326.0 209.7,326.0 210.3,326.1 210.9,326.1 211.5,326.1 212.1,326.1 212.7,326.1 213.3,326.1 213.9,326.1 214.5,326.1 215.1,326.2 215.7,326.2 216.3,326.2 216.9,326.2 217.5,326.2 218.1,326.2 218.7,326.2 219.3,326.2 219.9,326.2 220.5,326.2 221.1,326.2 221.7,326.2 222.3,326.2 222.9,326.2 223.5,326.2" stroke="#cccccc" stroke-width="1.0" fill="none" stroke-linejoin="round" opacity="1"/>
<path d="M66.9,329.6 67.5,329.6 68.1,329.6 68.7,329.6 69.3,329.6 69.9,329.6 70.5,329.6 71.1,329.6 71.7,329.6 72.3,329.6 72.9,329.6 73.5,329.6 74.1,329.5 74.7,329.5 75.3,329.5 75.9,329.5 76.5,329.5 77.1,329.5 77.7,329.5 78.3,329.5 78.9,329.5 79.5,329.5 80.1,329.5 80.7,329.5 81.3,329.5 81.9,329.5 82.5,329.5 83.1,329.5 83.7,329.5 84.3,329.4 84.9,329.4 85.5,329.4 86.1,329.4 86.7,329.4 87.3,329.4 87.9,329.4 88.5,329.4 89.1,329.4 89.7,329.4 90.3,329.4 90.9,329.3 91.5,329.3 92.1,329.3 92.7,329.3 93.3,329.3 93.9,329.3 94.5,329.2 95.1,329.2 95.7,329.2 96.3,329.2 96.9,329.1 97.5,329.1 98.1,329.1 98.7,329.0 99.3,329.0 99.9,328.9 100.5,328.9 101.1,328.8 101.7,328.7 102.3,328.6 102.9,328.5 103.5,328.4 104.1,328.2 104.7,328.0 105.3,327.8 105.9,327.6 106.5,327.3 107.1,327.0 107.7,326.7 108.3,326.3 108.9,325.8 109.5,325.3 110.1,324.8 110.7,324.1 111.3,323.4 111.9,322.6 112.5,321.6 113.1,320.6 113.7,319.5 114.3,318.3 114.9,316.9 115.5,315.4 116.1,313.7 116.7,311.9 117.3,310.0 117.9,307.8 118.5,305.6 119.1,303.1 119.7,300.5 120.3,297.7 120.9,294.7 121.5,291.6 122.1,288.3 122.7,284.8 123.3,281.2 123.9,277.5 124.5,273.6 125.1,269.6 125.7,265.5 126.3,261.4 126.9,257.2 127.5,253.0 128.1,248.8 128.7,244.5 129.3,240.4 129.9,236.3 130.5,232.4 131.1,228.5 131.7,224.9 132.3,221.4 132.9,218.2 133.5,215.2 134.1,212.5 134.7,210.2 135.3,208.1 135.9,206.4 136.5,205.1 137.1,204.1 137.7,203.6 138.3,203.4 138.9,203.6 139.5,204.2 140.1,205.2 140.7,206.5 141.3,208.2 141.9,210.2 142.5,212.5 143.1,215.1 143.7,218.0 144.3,221.1 144.9,224.4 145.5,227.9 146.1,231.5 146.7,235.2 147.3,239.0 147.9,242.9 148.5,246.8 149.1,250.7 149.7,254.5 150.3,258.3 150.9,262.1 151.5,265.7 152.1,269.3 152.7,272.7 153.3,276.0 153.9,279.2 154.5,282.2 155.1,285.0 155.7,287.7 156.3,290.2 156.9,292.6 157.5,294.8 158.1,296.9 158.7,298.8 159.3,300.5 159.9,302.1 160.5,303.6 161.1,304.9 161.7,306.2 162.3,307.3 162.9,308.3 163.5,309.2 164.1,310.1 164.7,310.8 165.3,311.5 165.9,312.1 166.5,312.7 167.1,313.2 167.7,313.7 168.3,314.2 168.9,314.6 169.5,315.0 170.1,315.4 170.7,315.7 171.3,316.0 171.9,316.4 172.5,316.7 173.1,317.0 173.7,317.3 174.3,317.6 174.9,317.8 175.5,318.1 176.1,318.4 176.7,318.7 177.3,318.9 177.9,319.2 178.5,319.5 179.1,319.8 179.7,320.0 180.3,320.3 180.9,320.5 181.5,320.8 182.1,321.0 182.7,321.3 183.3,321.5 183.9,321.7 184.5,322.0 185.1,322.2 185.7,322.4 186.3,322.6 186.9,322.8 187.5,323.0 188.1,323.2 188.7,323.4 189.3,323.6 189.9,323.7 190.5,323.9 191.1,324.0 191.7,324.2 192.3,324.3 192.9,324.4 193.5,324.6 194.1,324.7 194.7,324.8 195.3,324.9 195.9,325.0 196.5,325.1 197.1,325.2 197.7,325.3 198.3,325.3 198.9,325.4 199.5,325.5 200.1,325.5 200.7,325.6 201.3,325.6 201.9,325.7 202.5,325.7 203.1,325.8 203.7,325.8 204.3,325.8 204.9,325.9 205.5,325.9 206.1,325.9 206.7,326.0 207.3,326.0 207.9,326.0 208.5,326.0 209.1,326.0 209.7,326.0 210.3,326.1 210.9,326.1 211.5,326.1 212.1,326.1 212.7,326.1 213.3,326.1 213.9,326.1 214.5,326.1 215.1,326.2 215.7,326.2 216.3,326.2 216.9,326.2 217.5,326.2 218.1,326.2 218.7,326.2 219.3,326.2 219.9,326.2 220.5,326.2 221.1,326.2 221.7,326.2 222.3,326.2 222.9,326.2 223.5,326.2" stroke="#d85a5a" stroke-width="1.05" fill="none" stroke-linejoin="round" opacity="1"/>
<path d="M66.9,329.6 67.5,329.6 68.1,329.6 68.7,329.6 69.3,329.6 69.9,329.6 70.5,329.6 71.1,329.6 71.7,329.6 72.3,329.6 72.9,329.6 73.5,329.6 74.1,329.6 74.7,329.6 75.3,329.6 75.9,329.6 76.5,329.6 77.1,329.6 77.7,329.6 78.3,329.5 78.9,329.5 79.5,329.5 80.1,329.5 80.7,329.5 81.3,329.5 81.9,329.5 82.5,329.5 83.1,329.5 83.7,329.5 84.3,329.5 84.9,329.5 85.5,329.5 86.1,329.5 86.7,329.5 87.3,329.4 87.9,329.4 88.5,329.4 89.1,329.4 89.7,329.4 90.3,329.4 90.9,329.4 91.5,329.4 92.1,329.4 92.7,329.3 93.3,329.3 93.9,329.3 94.5,329.3 95.1,329.3 95.7,329.3 96.3,329.2 96.9,329.2 97.5,329.2 98.1,329.1 98.7,329.1 99.3,329.0 99.9,329.0 100.5,328.9 101.1,328.8 101.7,328.8 102.3,328.7 102.9,328.6 103.5,328.4 104.1,328.3 104.7,328.1 105.3,327.9 105.9,327.7 106.5,327.4 107.1,327.1 107.7,326.8 108.3,326.4 108.9,325.9 109.5,325.4 110.1,324.8 110.7,324.2 111.3,323.5 111.9,322.7 112.5,321.7 113.1,320.7 113.7,319.6 114.3,318.4 114.9,317.0 115.5,315.5 116.1,313.8 116.7,312.1 117.3,310.1 117.9,308.0 118.5,305.7 119.1,303.3 119.7,300.7 120.3,297.9 120.9,294.9 121.5,291.8 122.1,288.5 122.7,285.1 123.3,281.5 123.9,277.7 124.5,273.9 125.1,269.9 125.7,265.9 126.3,261.8 126.9,257.6 127.5,253.4 128.1,249.2 128.7,245.1 129.3,240.9 129.9,236.9 130.5,233.0 131.1,229.2 131.7,225.6 132.3,222.2 132.9,219.1 133.5,216.2 134.1,213.6 134.7,211.3 135.3,209.3 135.9,207.7 136.5,206.5 137.1,205.7 137.7,205.2 138.3,205.1 138.9,205.5 139.5,206.2 140.1,207.3 140.7,208.8 141.3,210.7 141.9,212.9 142.5,215.4 143.1,218.1 143.7,221.2 144.3,224.5 144.9,228.0 145.5,231.7 146.1,235.5 146.7,239.4 147.3,243.5 147.9,247.5 148.5,251.7 149.1,255.8 149.7,259.9 150.3,263.9 150.9,267.9 151.5,271.8 152.1,275.6 152.7,279.2 153.3,282.8 153.9,286.2 154.5,289.4 155.1,292.5 155.7,295.4 156.3,298.1 156.9,300.7 157.5,303.1 158.1,305.4 158.7,307.4 159.3,309.3 159.9,311.1 160.5,312.7 161.1,314.2 161.7,315.5 162.3,316.8 162.9,317.9 163.5,318.8 164.1,319.7 164.7,320.5 165.3,321.2 165.9,321.8 166.5,322.4 167.1,322.9 167.7,323.3 168.3,323.7 168.9,324.0 169.5,324.3 170.1,324.6 170.7,324.8 171.3,325.0 171.9,325.1 172.5,325.2 173.1,325.4 173.7,325.5 174.3,325.6 174.9,325.6 175.5,325.7 176.1,325.7 176.7,325.8 177.3,325.8 177.9,325.9 178.5,325.9 179.1,325.9 179.7,325.9 180.3,326.0 180.9,326.0 181.5,326.0 182.1,326.0 182.7,326.0 183.3,326.0 183.9,326.0 184.5,326.1 185.1,326.1 185.7,326.1 186.3,326.1 186.9,326.1 187.5,326.1 188.1,326.1 188.7,326.1 189.3,326.1 189.9,326.1 190.5,326.1 191.1,326.1 191.7,326.1 192.3,326.1 192.9,326.1 193.5,326.2 194.1,326.2 194.7,326.2 195.3,326.2 195.9,326.2 196.5,326.2 197.1,326.2 197.7,326.2 198.3,326.2 198.9,326.2 199.5,326.2 200.1,326.2 200.7,326.2 201.3,326.2 201.9,326.2 202.5,326.2 203.1,326.2 203.7,326.2 204.3,326.2 204.9,326.2 205.5,326.2 206.1,326.2 206.7,326.2 207.3,326.2 207.9,326.2 208.5,326.2 209.1,326.3 209.7,326.3 210.3,326.3 210.9,326.3 211.5,326.3 212.1,326.3 212.7,326.3 213.3,326.3 213.9,326.3 214.5,326.3 215.1,326.3 215.7,326.3 216.3,326.3 216.9,326.3 217.5,326.3 218.1,326.3 218.7,326.3 219.3,326.3 219.9,326.3 220.5,326.3 221.1,326.3 221.7,326.3 222.3,326.3 222.9,326.3 223.5,326.3" stroke="#4f8580" stroke-width="1.05" fill="none" stroke-linejoin="round" opacity="1"/>
<path d="M167 211.9H177.8" stroke="#d4d4d4" stroke-width="1.4"/>
<text transform="translate(180.6,214.9) scale(1,1.06)" font-size="8.5" text-anchor="start" font-weight="bold" fill="#1a1a1a" font-family='"Liberation Sans", sans-serif' >Raw Intensity</text>
<path d="M167 223.3H177.8" stroke="#c86060" stroke-width="1.4"/>
<text transform="translate(180.6,226.3) scale(1,1.06)" font-size="8.5" text-anchor="start" font-weight="bold" fill="#1a1a1a" font-family='"Liberation Sans", sans-serif' >Peak Sum</text>
<path d="M167 234.6H177.8" stroke="#d0d0d0" stroke-width="1.4"/>
<text transform="translate(180.6,237.6) scale(1,1.06)" font-size="8.5" text-anchor="start" font-weight="bold" fill="#1a1a1a" font-family='"Liberation Sans", sans-serif' >Background</text>
<path d="M167 245.9H177.8" stroke="#587070" stroke-width="1.4"/>
<text transform="translate(180.6,248.9) scale(1,1.06)" font-size="8.5" text-anchor="start" font-weight="bold" fill="#1a1a1a" font-family='"Liberation Sans", sans-serif' >Peak 1</text>
<path d="M167 257.3H177.8" stroke="#d070a0" stroke-width="1.4"/>
<text transform="translate(180.6,260.3) scale(1,1.06)" font-size="8.5" text-anchor="start" font-weight="bold" fill="#1a1a1a" font-family='"Liberation Sans", sans-serif' >Peak 2</text>
<text transform="translate(150.5,199.6) scale(1,1.06)" font-size="8" text-anchor="start" font-weight="bold" fill="#1a1a1a" font-family='"Liberation Sans", sans-serif' >O 1s</text>
<path d="M150 198.5L144.8 203.3" stroke="#111" stroke-width="0.9"/>
<path d="M142.5 205.5L143.7 202.1L145.9 204.5Z" fill="#111"/>
<text transform="translate(182.5,310) scale(1,1.06)" font-size="8" text-anchor="start" font-weight="bold" fill="#1a1a1a" font-family='"Liberation Sans", sans-serif' >O 1s</text>
<path d="M180 311L174.6 315.1" stroke="#111" stroke-width="0.9"/>
<path d="M172 317L173.6 313.8L175.5 316.4Z" fill="#111"/>
<rect x="281.3" y="189.0" width="194.4" height="149.7" fill="none" stroke="#8a8a8a" stroke-width="1"/>
<path d="M281.3 329.9h-3M281.3 312.3h-3M281.3 294.7h-3M281.3 277.1h-3M281.3 259.4h-3M281.3 241.8h-3M281.3 224.2h-3M281.3 206.6h-3M281.3 189.0h-3" stroke="#8a8a8a" stroke-width="0.8" fill="none"/>
<path d="M281.3 338.7h-1.6M281.3 321.1h-1.6M281.3 303.5h-1.6M281.3 285.9h-1.6M281.3 268.3h-1.6M281.3 250.6h-1.6M281.3 233.0h-1.6M281.3 215.4h-1.6M281.3 197.8h-1.6" stroke="#8a8a8a" stroke-width="0.8" fill="none"/>
<path d="M291.0 338.7v3M310.4 338.7v3M329.8 338.7v3M349.2 338.7v3M368.6 338.7v3M388.0 338.7v3M407.4 338.7v3M426.8 338.7v3M446.2 338.7v3M465.6 338.7v3" stroke="#8a8a8a" stroke-width="0.8" fill="none"/>
<path d="M281.3 338.7v1.6M291.0 338.7v1.6M300.7 338.7v1.6M310.4 338.7v1.6M320.1 338.7v1.6M329.8 338.7v1.6M339.5 338.7v1.6M349.2 338.7v1.6M358.9 338.7v1.6M368.6 338.7v1.6M378.3 338.7v1.6M388.0 338.7v1.6M397.7 338.7v1.6M407.4 338.7v1.6M417.1 338.7v1.6M426.8 338.7v1.6M436.5 338.7v1.6M446.2 338.7v1.6M455.9 338.7v1.6M465.6 338.7v1.6M475.3 338.7v1.6" stroke="#8a8a8a" stroke-width="0.8" fill="none"/>
<text transform="translate(275.8,332.3) scale(1,1.06)" font-size="7.4" text-anchor="end" font-weight="bold" fill="#1a1a1a" font-family='"Liberation Sans", sans-serif' >3,800</text>
<text transform="translate(275.8,314.7) scale(1,1.06)" font-size="7.4" text-anchor="end" font-weight="bold" fill="#1a1a1a" font-family='"Liberation Sans", sans-serif' >4,000</text>
<text transform="translate(275.8,297.1) scale(1,1.06)" font-size="7.4" text-anchor="end" font-weight="bold" fill="#1a1a1a" font-family='"Liberation Sans", sans-serif' >4,200</text>
<text transform="translate(275.8,279.5) scale(1,1.06)" font-size="7.4" text-anchor="end" font-weight="bold" fill="#1a1a1a" font-family='"Liberation Sans", sans-serif' >4,400</text>
<text transform="translate(275.8,261.9) scale(1,1.06)" font-size="7.4" text-anchor="end" font-weight="bold" fill="#1a1a1a" font-family='"Liberation Sans", sans-serif' >4,600</text>
<text transform="translate(275.8,244.3) scale(1,1.06)" font-size="7.4" text-anchor="end" font-weight="bold" fill="#1a1a1a" font-family='"Liberation Sans", sans-serif' >4,800</text>
<text transform="translate(275.8,226.7) scale(1,1.06)" font-size="7.4" text-anchor="end" font-weight="bold" fill="#1a1a1a" font-family='"Liberation Sans", sans-serif' >5,000</text>
<text transform="translate(275.8,209.1) scale(1,1.06)" font-size="7.4" text-anchor="end" font-weight="bold" fill="#1a1a1a" font-family='"Liberation Sans", sans-serif' >5,200</text>
<text transform="translate(275.8,191.4) scale(1,1.06)" font-size="7.4" text-anchor="end" font-weight="bold" fill="#1a1a1a" font-family='"Liberation Sans", sans-serif' >5,400</text>
<text transform="translate(291.0,350.2) scale(1,1.06)" font-size="7.5" text-anchor="middle" font-weight="bold" fill="#1a1a1a" font-family='"Liberation Sans", sans-serif' >152</text>
<text transform="translate(310.4,350.2) scale(1,1.06)" font-size="7.5" text-anchor="middle" font-weight="bold" fill="#1a1a1a" font-family='"Liberation Sans", sans-serif' >154</text>
<text transform="translate(329.8,350.2) scale(1,1.06)" font-size="7.5" text-anchor="middle" font-weight="bold" fill="#1a1a1a" font-family='"Liberation Sans", sans-serif' >156</text>
<text transform="translate(349.2,350.2) scale(1,1.06)" font-size="7.5" text-anchor="middle" font-weight="bold" fill="#1a1a1a" font-family='"Liberation Sans", sans-serif' >158</text>
<text transform="translate(368.6,350.2) scale(1,1.06)" font-size="7.5" text-anchor="middle" font-weight="bold" fill="#1a1a1a" font-family='"Liberation Sans", sans-serif' >160</text>
<text transform="translate(388.0,350.2) scale(1,1.06)" font-size="7.5" text-anchor="middle" font-weight="bold" fill="#1a1a1a" font-family='"Liberation Sans", sans-serif' >162</text>
<text transform="translate(407.4,350.2) scale(1,1.06)" font-size="7.5" text-anchor="middle" font-weight="bold" fill="#1a1a1a" font-family='"Liberation Sans", sans-serif' >164</text>
<text transform="translate(426.8,350.2) scale(1,1.06)" font-size="7.5" text-anchor="middle" font-weight="bold" fill="#1a1a1a" font-family='"Liberation Sans", sans-serif' >166</text>
<text transform="translate(446.2,350.2) scale(1,1.06)" font-size="7.5" text-anchor="middle" font-weight="bold" fill="#1a1a1a" font-family='"Liberation Sans", sans-serif' >168</text>
<text transform="translate(465.6,350.2) scale(1,1.06)" font-size="7.5" text-anchor="middle" font-weight="bold" fill="#1a1a1a" font-family='"Liberation Sans", sans-serif' >170</text>
<text transform="translate(378.5,360.5) scale(1,1.06)" font-size="7.8" text-anchor="middle" font-weight="bold" fill="#1a1a1a" font-family='"Liberation Sans", sans-serif' >Binding Energy (eV)</text>
<text transform="translate(252,260.6) rotate(-90)" font-size="7.6" text-anchor="middle" font-weight="bold" fill="#1a1a1a" font-family='"Liberation Sans", sans-serif'>Intensity (a.u.)</text>
<text transform="translate(289.3,221.5) scale(1,1.05)" font-size="28" fill="#111" style="stroke:#111;stroke-width:0.45px" font-family='"Liberation Serif", serif'>d</text>
<path d="M294.9,327.2 295.5,327.2 296.1,327.2 296.7,327.2 297.3,327.2 297.9,327.2 298.5,327.2 299.1,327.2 299.7,327.2 300.3,327.2 300.9,327.2 301.5,327.2 302.1,327.2 302.7,327.2 303.3,327.2 303.9,327.2 304.5,327.2 305.1,327.2 305.7,327.2 306.3,327.2 306.9,327.2 307.5,327.2 308.1,327.2 308.7,327.2 309.3,327.2 309.9,327.2 310.5,327.2 311.1,327.2 311.7,327.2 312.3,327.2 312.9,327.2 313.5,327.2 314.1,327.2 314.7,327.2 315.3,327.2 315.9,327.2 316.5,327.2 317.1,327.2 317.7,327.2 318.3,327.2 318.9,327.2 319.5,327.2 320.1,327.2 320.7,327.2 321.3,327.2 321.9,327.2 322.5,327.1 323.1,327.1 323.7,327.1 324.3,327.1 324.9,327.1 325.5,327.1 326.1,327.1 326.7,327.1 327.3,327.1 327.9,327.1 328.5,327.1 329.1,327.1 329.7,327.1 330.3,327.1 330.9,327.0 331.5,327.0 332.1,327.0 332.7,327.0 333.3,327.0 333.9,327.0 334.5,327.0 335.1,327.0 335.7,326.9 336.3,326.9 336.9,326.9 337.5,326.9 338.1,326.9 338.7,326.9 339.3,326.8 339.9,326.8 340.5,326.8 341.1,326.8 341.7,326.8 342.3,326.7 342.9,326.7 343.5,326.7 344.1,326.7 344.7,326.7 345.3,326.6 345.9,326.6 346.5,326.6 347.1,326.5 347.7,326.5 348.3,326.5 348.9,326.4 349.5,326.4 350.1,326.4 350.7,326.3 351.3,326.3 351.9,326.3 352.5,326.2 353.1,326.2 353.7,326.2 354.3,326.1 354.9,326.1 355.5,326.0 356.1,326.0 356.7,325.9 357.3,325.9 357.9,325.9 358.5,325.8 359.1,325.8 359.7,325.7 360.3,325.7 360.9,325.6 361.5,325.6 362.1,325.5 362.7,325.5 363.3,325.4 363.9,325.4 364.5,325.3 365.1,325.3 365.7,325.3 366.3,325.2 366.9,325.2 367.5,325.1 368.1,325.1 368.7,325.0 369.3,325.0 369.9,324.9 370.5,324.9 371.1,324.8 371.7,324.8 372.3,324.8 372.9,324.7 373.5,324.7 374.1,324.6 374.7,324.6 375.3,324.6 375.9,324.5 376.5,324.5 377.1,324.4 377.7,324.4 378.3,324.4 378.9,324.3 379.5,324.3 380.1,324.3 380.7,324.3 381.3,324.2 381.9,324.2 382.5,324.2 383.1,324.1 383.7,324.1 384.3,324.1 384.9,324.1 385.5,324.0 386.1,324.0 386.7,324.0 387.3,324.0 387.9,324.0 388.5,323.9 389.1,323.9 389.7,323.9 390.3,323.9 390.9,323.9 391.5,323.9 392.1,323.9 392.7,323.8 393.3,323.8 393.9,323.8 394.5,323.8 395.1,323.8 395.7,323.8 396.3,323.8 396.9,323.8 397.5,323.7 398.1,323.7 398.7,323.7 399.3,323.7 399.9,323.7 400.5,323.7 401.1,323.7 401.7,323.7 402.3,323.7 402.9,323.7 403.5,323.7 404.1,323.7 404.7,323.7 405.3,323.7 405.9,323.7 406.5,323.6 407.1,323.6 407.7,323.6 408.3,323.6 408.9,323.6 409.5,323.6 410.1,323.6 410.7,323.6 411.3,323.6 411.9,323.6 412.5,323.6 413.1,323.6 413.7,323.6 414.3,323.6 414.9,323.6 415.5,323.6 416.1,323.6 416.7,323.6 417.3,323.6 417.9,323.6 418.5,323.6 419.1,323.6 419.7,323.6 420.3,323.6 420.9,323.6 421.5,323.6 422.1,323.6 422.7,323.6 423.3,323.6 423.9,323.6 424.5,323.6 425.1,323.6 425.7,323.6 426.3,323.6 426.9,323.6 427.5,323.6 428.1,323.6 428.7,323.6 429.3,323.6 429.9,323.6 430.5,323.6 431.1,323.6 431.7,323.6 432.3,323.6 432.9,323.6 433.5,323.6 434.1,323.6 434.7,323.6 435.3,323.6 435.9,323.6 436.5,323.6 437.1,323.6 437.7,323.6 438.3,323.6 438.9,323.6 439.5,323.6 440.1,323.6 440.7,323.6 441.3,323.6 441.9,323.6 442.5,323.6 443.1,323.6 443.7,323.6 444.3,323.6 444.9,323.6 445.5,323.6 446.1,323.6 446.7,323.6 447.3,323.6 447.9,323.6 448.5,323.6 449.1,323.6 449.7,323.6 450.3,323.6 450.9,323.6 451.5,323.6 452.1,323.6 452.7,323.6 453.3,323.6 453.9,323.6 454.5,323.6 455.1,323.6 455.7,323.6 456.3,323.6 456.9,323.6 457.5,323.6 458.1,323.6 458.7,323.6 459.8,323.6" stroke="#b8b8b8" stroke-width="1.0" fill="none" stroke-linejoin="round" opacity="1"/>
<path d="M294.9,325.5 295.5,325.4 296.1,325.3 296.7,325.2 297.3,325.1 297.9,325.0 298.5,324.9 299.1,324.8 299.7,324.7 300.3,324.5 300.9,324.4 301.5,324.2 302.1,324.0 302.7,323.8 303.3,323.6 303.9,323.4 304.5,323.2 305.1,322.9 305.7,322.7 306.3,322.4 306.9,322.0 307.5,321.7 308.1,321.4 308.7,321.0 309.3,320.6 309.9,320.1 310.5,319.7 311.1,319.2 311.7,318.7 312.3,318.1 312.9,317.6 313.5,317.0 314.1,316.4 314.7,315.7 315.3,315.0 315.9,314.3 316.5,313.6 317.1,312.9 317.7,312.1 318.3,311.3 318.9,310.5 319.5,309.7 320.1,308.9 320.7,308.0 321.3,307.2 321.9,306.3 322.5,305.5 323.1,304.6 323.7,303.8 324.3,303.0 324.9,302.2 325.5,301.4 326.1,300.7 326.7,300.0 327.3,299.3 327.9,298.7 328.5,298.2 329.1,297.7 329.7,297.3 330.3,296.9 330.9,296.7 331.5,296.5 332.1,296.4 332.7,296.4 333.3,296.5 333.9,296.7 334.5,297.1 335.1,297.6 335.7,298.2 336.3,298.9 336.9,299.6 337.5,300.5 338.1,301.4 338.7,302.3 339.3,303.3 339.9,304.3 340.5,305.3 341.1,306.4 341.7,307.4 342.3,308.4 342.9,309.4 343.5,310.4 344.1,311.4 344.7,312.3 345.3,313.2 345.9,314.1 346.5,314.9 347.1,315.7 347.7,316.4 348.3,317.1 348.9,317.8 349.5,318.4 350.1,318.9 350.7,319.5 351.3,319.9 351.9,320.4 352.5,320.8 353.1,321.2 353.7,321.5 354.3,321.8 354.9,322.1 355.5,322.3 356.1,322.6 356.7,322.7 357.3,322.9 357.9,323.1 358.5,323.2 359.1,323.3 359.7,323.4 360.3,323.5 360.9,323.6 361.5,323.6 362.1,323.7 362.7,323.7 363.3,323.8 363.9,323.8 364.5,323.8 365.1,323.8 365.7,323.8 366.3,323.9 366.9,323.9 367.5,323.9 368.1,323.9 368.7,323.9 369.3,323.8 369.9,323.8 370.5,323.8 371.1,323.8 371.7,323.8 372.3,323.8 372.9,323.8 373.5,323.8 374.1,323.7 374.7,323.7 375.3,323.7 375.9,323.7 376.5,323.7 377.1,323.7 377.7,323.7 378.3,323.6 378.9,323.6 379.5,323.6 380.1,323.6 380.7,323.6 381.3,323.6 381.9,323.6 382.5,323.5 383.1,323.5 383.7,323.5 384.3,323.5 384.9,323.5 385.5,323.5 386.1,323.5 386.7,323.5 387.3,323.5 387.9,323.5 388.5,323.4 389.1,323.4 389.7,323.4 390.3,323.4 390.9,323.4 391.5,323.4 392.1,323.4 392.7,323.4 393.3,323.4 393.9,323.4 394.5,323.4 395.1,323.4 395.7,323.4 396.3,323.4 396.9,323.4 397.5,323.4 398.1,323.4 398.7,323.4 399.3,323.4 399.9,323.4 400.5,323.4 401.1,323.4 401.7,323.4 402.3,323.4 402.9,323.4 403.5,323.4 404.1,323.4 404.7,323.4 405.3,323.4 405.9,323.4 406.5,323.4 407.1,323.4 407.7,323.4 408.3,323.4 408.9,323.4 409.5,323.4 410.1,323.4 410.7,323.4 411.3,323.4 411.9,323.4 412.5,323.4 413.1,323.4 413.7,323.4 414.3,323.4 414.9,323.4 415.5,323.4 416.1,323.4 416.7,323.4 417.3,323.4 417.9,323.4 418.5,323.4 419.1,323.4 419.7,323.4 420.3,323.4 420.9,323.4 421.5,323.4 422.1,323.4 422.7,323.4 423.3,323.4 423.9,323.4 424.5,323.4 425.1,323.4 425.7,323.4 426.3,323.4 426.9,323.4 427.5,323.4 428.1,323.4 428.7,323.4 429.3,323.4 429.9,323.4 430.5,323.4 431.1,323.4 431.7,323.4 432.3,323.4 432.9,323.4 433.5,323.4 434.1,323.4 434.7,323.4 435.3,323.4 435.9,323.4 436.5,323.4 437.1,323.4 437.7,323.4 438.3,323.4 438.9,323.4 439.5,323.4 440.1,323.4 440.7,323.4 441.3,323.4 441.9,323.4 442.5,323.4 443.1,323.4 443.7,323.4 444.3,323.4 444.9,323.4 445.5,323.4 446.1,323.4 446.7,323.4 447.3,323.4 447.9,323.4 448.5,323.4 449.1,323.4 449.7,323.4 450.3,323.4 450.9,323.4 451.5,323.4 452.1,323.4 452.7,323.4 453.3,323.4 453.9,323.4 454.5,323.4 455.1,323.4 455.7,323.4 456.3,323.4 456.9,323.4 457.5,323.4 458.1,323.5 458.7,323.5 459.8,323.5" stroke="#a89a3a" stroke-width="1.1" fill="none" stroke-linejoin="round" opacity="1"/>
<path d="M294.9,327.0 295.5,327.0 296.1,327.0 296.7,327.0 297.3,327.0 297.9,327.0 298.5,327.0 299.1,327.0 299.7,327.0 300.3,327.0 300.9,327.0 301.5,327.0 302.1,327.0 302.7,327.0 303.3,327.0 303.9,327.0 304.5,327.0 305.1,327.0 305.7,326.9 306.3,326.9 306.9,326.9 307.5,326.9 308.1,326.9 308.7,326.9 309.3,326.9 309.9,326.9 310.5,326.9 311.1,326.9 311.7,326.9 312.3,326.9 312.9,326.9 313.5,326.9 314.1,326.8 314.7,326.8 315.3,326.8 315.9,326.8 316.5,326.8 317.1,326.8 317.7,326.8 318.3,326.8 318.9,326.8 319.5,326.7 320.1,326.7 320.7,326.7 321.3,326.7 321.9,326.7 322.5,326.7 323.1,326.7 323.7,326.7 324.3,326.6 324.9,326.6 325.5,326.6 326.1,326.6 326.7,326.6 327.3,326.5 327.9,326.5 328.5,326.5 329.1,326.5 329.7,326.5 330.3,326.4 330.9,326.4 331.5,326.4 332.1,326.4 332.7,326.3 333.3,326.3 333.9,326.3 334.5,326.2 335.1,326.2 335.7,326.2 336.3,326.1 336.9,326.1 337.5,326.1 338.1,326.0 338.7,326.0 339.3,325.9 339.9,325.9 340.5,325.8 341.1,325.8 341.7,325.7 342.3,325.7 342.9,325.6 343.5,325.6 344.1,325.5 344.7,325.4 345.3,325.4 345.9,325.3 346.5,325.2 347.1,325.1 347.7,325.0 348.3,324.9 348.9,324.8 349.5,324.6 350.1,324.5 350.7,324.3 351.3,324.1 351.9,323.9 352.5,323.6 353.1,323.4 353.7,323.0 354.3,322.7 354.9,322.3 355.5,321.8 356.1,321.2 356.7,320.6 357.3,319.9 357.9,319.1 358.5,318.2 359.1,317.2 359.7,316.0 360.3,314.7 360.9,313.2 361.5,311.6 362.1,309.8 362.7,307.9 363.3,305.7 363.9,303.4 364.5,300.8 365.1,298.1 365.7,295.1 366.3,292.0 366.9,288.7 367.5,285.1 368.1,281.5 368.7,277.7 369.3,273.7 369.9,269.7 370.5,265.6 371.1,261.5 371.7,257.3 372.3,253.3 372.9,249.3 373.5,245.4 374.1,241.8 374.7,238.3 375.3,235.2 375.9,232.3 376.5,229.9 377.1,227.8 377.7,226.2 378.3,225.1 378.9,224.5 379.5,224.4 380.1,224.5 380.7,224.8 381.3,225.4 381.9,226.1 382.5,227.0 383.1,228.0 383.7,229.3 384.3,230.7 384.9,232.3 385.5,234.0 386.1,235.9 386.7,237.9 387.3,240.0 387.9,242.2 388.5,244.5 389.1,246.9 389.7,249.4 390.3,251.9 390.9,254.5 391.5,257.1 392.1,259.7 392.7,262.4 393.3,265.1 393.9,267.7 394.5,270.4 395.1,273.0 395.7,275.5 396.3,278.1 396.9,280.6 397.5,283.0 398.1,285.4 398.7,287.7 399.3,289.9 399.9,292.0 400.5,294.1 401.1,296.1 401.7,298.0 402.3,299.8 402.9,301.6 403.5,303.2 404.1,304.8 404.7,306.2 405.3,307.6 405.9,308.9 406.5,310.2 407.1,311.3 407.7,312.4 408.3,313.4 408.9,314.3 409.5,315.2 410.1,316.0 410.7,316.7 411.3,317.4 411.9,318.0 412.5,318.6 413.1,319.1 413.7,319.5 414.3,320.0 414.9,320.4 415.5,320.7 416.1,321.0 416.7,321.3 417.3,321.6 417.9,321.8 418.5,322.0 419.1,322.2 419.7,322.4 420.3,322.5 420.9,322.7 421.5,322.8 422.1,322.9 422.7,323.0 423.3,323.0 423.9,323.1 424.5,323.2 425.1,323.2 425.7,323.3 426.3,323.3 426.9,323.4 427.5,323.4 428.1,323.4 428.7,323.4 429.3,323.5 429.9,323.5 430.5,323.5 431.1,323.5 431.7,323.5 432.3,323.5 432.9,323.5 433.5,323.5 434.1,323.5 434.7,323.5 435.3,323.5 435.9,323.5 436.5,323.5 437.1,323.5 437.7,323.6 438.3,323.6 438.9,323.6 439.5,323.6 440.1,323.6 440.7,323.6 441.3,323.6 441.9,323.6 442.5,323.6 443.1,323.6 443.7,323.6 444.3,323.6 444.9,323.6 445.5,323.6 446.1,323.6 446.7,323.6 447.3,323.6 447.9,323.6 448.5,323.6 449.1,323.6 449.7,323.6 450.3,323.6 450.9,323.6 451.5,323.6 452.1,323.6 452.7,323.6 453.3,323.6 453.9,323.6 454.5,323.6 455.1,323.6 455.7,323.6 456.3,323.6 456.9,323.6 457.5,323.6 458.1,323.6 458.7,323.6 459.8,323.6" stroke="#3a9090" stroke-width="1.1" fill="none" stroke-linejoin="round" opacity="1"/>
<path d="M294.9,327.2 295.5,327.2 296.1,327.2 296.7,327.2 297.3,327.2 297.9,327.2 298.5,327.2 299.1,327.2 299.7,327.2 300.3,327.2 300.9,327.2 301.5,327.2 302.1,327.2 302.7,327.2 303.3,327.2 303.9,327.2 304.5,327.2 305.1,327.2 305.7,327.2 306.3,327.2 306.9,327.2 307.5,327.2 308.1,327.2 308.7,327.2 309.3,327.2 309.9,327.2 310.5,327.2 311.1,327.2 311.7,327.2 312.3,327.2 312.9,327.2 313.5,327.2 314.1,327.2 314.7,327.2 315.3,327.2 315.9,327.2 316.5,327.2 317.1,327.2 317.7,327.2 318.3,327.2 318.9,327.2 319.5,327.2 320.1,327.2 320.7,327.2 321.3,327.2 321.9,327.2 322.5,327.1 323.1,327.1 323.7,327.1 324.3,327.1 324.9,327.1 325.5,327.1 326.1,327.1 326.7,327.1 327.3,327.1 327.9,327.1 328.5,327.1 329.1,327.1 329.7,327.0 330.3,327.0 330.9,327.0 331.5,327.0 332.1,326.9 332.7,326.9 333.3,326.8 333.9,326.7 334.5,326.6 335.1,326.5 335.7,326.3 336.3,326.1 336.9,325.8 337.5,325.4 338.1,324.9 338.7,324.4 339.3,323.7 339.9,322.8 340.5,321.8 341.1,320.6 341.7,319.1 342.3,317.4 342.9,315.4 343.5,313.1 344.1,310.4 344.7,307.4 345.3,304.0 345.9,300.2 346.5,296.1 347.1,291.6 347.7,286.8 348.3,281.6 348.9,276.2 349.5,270.7 350.1,264.9 350.7,259.2 351.3,253.5 351.9,248.0 352.5,242.7 353.1,237.7 353.7,233.3 354.3,229.4 354.9,226.1 355.5,223.5 356.1,221.7 356.7,220.7 357.3,220.6 357.9,221.2 358.5,222.7 359.1,225.0 359.7,228.1 360.3,231.7 360.9,236.0 361.5,240.7 362.1,245.9 362.7,251.3 363.3,256.8 363.9,262.5 364.5,268.1 365.1,273.7 365.7,279.0 366.3,284.2 366.9,289.0 367.5,293.5 368.1,297.7 368.7,301.5 369.3,304.9 369.9,307.9 370.5,310.6 371.1,312.9 371.7,315.0 372.3,316.7 372.9,318.2 373.5,319.4 374.1,320.4 374.7,321.2 375.3,321.9 375.9,322.4 376.5,322.9 377.1,323.2 377.7,323.5 378.3,323.7 378.9,323.8 379.5,323.9 380.1,324.0 380.7,324.0 381.3,324.1 381.9,324.1 382.5,324.1 383.1,324.1 383.7,324.1 384.3,324.1 384.9,324.1 385.5,324.0 386.1,324.0 386.7,324.0 387.3,324.0 387.9,324.0 388.5,323.9 389.1,323.9 389.7,323.9 390.3,323.9 390.9,323.9 391.5,323.9 392.1,323.9 392.7,323.8 393.3,323.8 393.9,323.8 394.5,323.8 395.1,323.8 395.7,323.8 396.3,323.8 396.9,323.8 397.5,323.7 398.1,323.7 398.7,323.7 399.3,323.7 399.9,323.7 400.5,323.7 401.1,323.7 401.7,323.7 402.3,323.7 402.9,323.7 403.5,323.7 404.1,323.7 404.7,323.7 405.3,323.7 405.9,323.7 406.5,323.6 407.1,323.6 407.7,323.6 408.3,323.6 408.9,323.6 409.5,323.6 410.1,323.6 410.7,323.6 411.3,323.6 411.9,323.6 412.5,323.6 413.1,323.6 413.7,323.6 414.3,323.6 414.9,323.6 415.5,323.6 416.1,323.6 416.7,323.6 417.3,323.6 417.9,323.6 418.5,323.6 419.1,323.6 419.7,323.6 420.3,323.6 420.9,323.6 421.5,323.6 422.1,323.6 422.7,323.6 423.3,323.6 423.9,323.6 424.5,323.6 425.1,323.6 425.7,323.6 426.3,323.6 426.9,323.6 427.5,323.6 428.1,323.6 428.7,323.6 429.3,323.6 429.9,323.6 430.5,323.6 431.1,323.6 431.7,323.6 432.3,323.6 432.9,323.6 433.5,323.6 434.1,323.6 434.7,323.6 435.3,323.6 435.9,323.6 436.5,323.6 437.1,323.6 437.7,323.6 438.3,323.6 438.9,323.6 439.5,323.6 440.1,323.6 440.7,323.6 441.3,323.6 441.9,323.6 442.5,323.6 443.1,323.6 443.7,323.6 444.3,323.6 444.9,323.6 445.5,323.6 446.1,323.6 446.7,323.6 447.3,323.6 447.9,323.6 448.5,323.6 449.1,323.6 449.7,323.6 450.3,323.6 450.9,323.6 451.5,323.6 452.1,323.6 452.7,323.6 453.3,323.6 453.9,323.6 454.5,323.6 455.1,323.6 455.7,323.6 456.3,323.6 456.9,323.6 457.5,323.6 458.1,323.6 458.7,323.6 459.8,323.6" stroke="#c83ca0" stroke-width="1.4" fill="none" stroke-linejoin="round" opacity="1"/>
<path d="M294.9,326.7 295.5,326.4 296.1,326.1 296.7,325.8 297.3,325.5 297.9,325.2 298.5,324.9 299.1,324.6 299.7,324.3 300.3,324.0 300.9,323.7 301.5,323.3 302.1,323.0 302.7,322.7 303.3,322.4 303.9,322.1 304.5,321.7 305.1,321.4 305.7,321.0 306.3,320.6 306.9,320.2 307.5,319.8 308.1,319.3 308.7,318.9 309.3,318.4 309.9,318.0 310.5,317.5 311.1,317.0 311.7,316.5 312.3,316.0 312.9,315.5 313.5,315.0 314.1,314.5 314.7,313.9 315.3,313.4 315.9,312.8 316.5,312.3 317.1,311.7 317.7,311.1 318.3,310.5 318.9,310.0 319.5,309.4 320.1,308.8 320.7,308.2 321.3,307.5 321.9,306.8 322.5,306.0 323.1,305.2 323.7,304.4 324.3,303.6 324.9,302.8 325.5,302.0 326.1,301.2 326.7,300.4 327.3,299.6 327.9,298.8 328.5,298.1 329.1,297.5 329.7,296.8 330.3,296.3 330.9,295.8 331.5,295.3 332.1,295.0 332.7,294.7 333.3,294.5 333.9,294.3 334.5,294.2 335.1,294.1 335.7,294.0 336.3,293.9 336.9,293.9 337.5,293.8 338.1,293.8 338.7,293.8 339.3,293.8 339.9,293.8 340.5,293.8 341.1,293.7 341.7,293.7 342.3,293.6 342.9,293.4 343.5,293.2 344.1,292.8 344.7,291.1 345.3,288.1 345.9,284.4 346.5,280.7 347.1,277.3 347.7,273.6 348.3,269.8 348.9,266.0 349.5,262.3 350.1,258.9 350.7,255.1 351.3,250.3 351.9,243.9 352.5,235.9 353.1,227.7 353.7,219.1 354.3,210.9 354.9,205.9 355.5,203.3 356.1,202.1 356.7,201.6 357.3,201.3 357.9,201.2 358.5,201.2 359.1,201.2 359.7,201.2 360.3,201.2 360.9,201.4 361.5,201.6 362.1,202.0 362.7,202.5 363.3,203.8 363.9,206.4 364.5,209.7 365.1,213.2 365.7,217.4 366.3,221.9 366.9,225.3 367.5,227.9 368.1,229.7 368.7,230.2 369.3,230.2 369.9,230.2 370.5,230.1 371.1,230.0 371.7,229.9 372.3,229.4 372.9,228.6 373.5,227.6 374.1,226.8 374.7,226.2 375.3,225.6 375.9,225.1 376.5,224.7 377.1,224.4 377.7,224.2 378.3,224.3 378.9,224.8 379.5,225.5 380.1,226.5 380.7,227.6 381.3,228.8 381.9,230.1 382.5,231.5 383.1,233.0 383.7,234.6 384.3,236.3 384.9,238.0 385.5,239.8 386.1,241.6 386.7,243.4 387.3,245.2 387.9,247.0 388.5,248.7 389.1,250.5 389.7,252.4 390.3,254.3 390.9,256.2 391.5,258.3 392.1,260.4 392.7,262.7 393.3,265.1 393.9,267.7 394.5,270.7 395.1,273.9 395.7,277.3 396.3,280.6 396.9,283.7 397.5,286.5 398.1,289.0 398.7,291.3 399.3,293.5 399.9,295.5 400.5,297.4 401.1,299.2 401.7,300.9 402.3,302.5 402.9,304.0 403.5,305.4 404.1,306.6 404.7,307.8 405.3,308.8 405.9,309.7 406.5,310.6 407.1,311.4 407.7,312.2 408.3,312.9 408.9,313.5 409.5,314.2 410.1,314.8 410.7,315.5 411.3,316.2 411.9,316.8 412.5,317.4 413.1,317.9 413.7,318.4 414.3,318.9 414.9,319.4 415.5,319.8 416.1,320.1 416.7,320.4 417.3,320.7 417.9,321.0 418.5,321.2 419.1,321.4 419.7,321.6 420.3,321.7 420.9,321.9 421.5,322.0 422.1,322.1 422.7,322.2 423.3,322.3 423.9,322.4 424.5,322.4 425.1,322.5 425.7,322.5 426.3,322.6 426.9,322.6 427.5,322.6 428.1,322.7 428.7,322.7 429.3,322.7 429.9,322.7 430.5,322.8 431.1,322.8 431.7,322.9 432.3,322.9 432.9,322.9 433.5,323.0 434.1,323.0 434.7,323.0 435.3,323.1 435.9,323.1 436.5,323.1 437.1,323.2 437.7,323.2 438.3,323.2 438.9,323.2 439.5,323.2 440.1,323.3 440.7,323.3 441.3,323.3 441.9,323.3 442.5,323.3 443.1,323.3 443.7,323.3 444.3,323.4 444.9,323.4 445.5,323.4 446.1,323.4 446.7,323.4 447.3,323.4 447.9,323.4 448.5,323.4 449.1,323.4 449.7,323.4 450.3,323.4 450.9,323.4 451.5,323.4 452.1,323.4 452.7,323.5 453.3,323.5 453.9,323.5 454.5,323.5 455.1,323.5 455.7,323.5 456.3,323.5 456.9,323.5 457.5,323.5 458.1,323.5 458.7,323.5 459.8,323.6" stroke="#c8705e" stroke-width="1.2" fill="none" stroke-linejoin="round" opacity="1"/>
<path d="M294.9,326.7 296.2,318.4 297.2,327.3 299.2,314.7 300.5,316.4 301.4,321.4 302.9,314.1 303.9,319.8 305.4,311.1 308.0,316.7 310.6,309.3 312.5,316.8 314.1,310.7 315.1,302.2 317.6,307.9 319.4,302.1 321.2,304.3 322.1,297.9 323.7,291.9 325.3,301.9 326.5,290.3 328.8,294.2 330.1,286.7 332.1,291.8 333.1,285.4 334.9,299.4 335.8,284.7 338.1,299.0 340.5,278.0 343.2,295.0 344.4,296.3 346.4,278.3 347.5,277.7 349.2,260.1 350.8,256.2 352.5,232.0 354.5,212.8 355.5,209.3 357.7,199.8 360.0,203.1 362.5,197.1 363.8,210.9 365.4,215.5 367.4,227.7 369.9,221.8 372.3,226.7 374.8,214.6 377.2,222.1 378.9,213.9 379.9,223.4 381.0,227.7 383.4,227.2 385.0,242.6 387.3,235.0 389.7,255.4 391.3,247.6 393.9,266.3 396.0,271.4 398.6,279.3 401.1,296.7 403.7,304.0 406.1,308.9 407.6,298.0 409.4,312.9 410.6,301.0 412.9,312.1 414.1,305.7 416.0,319.8 417.5,319.8 419.4,322.8 420.5,307.3 422.8,322.5 424.8,303.2 427.3,305.6 429.1,322.6 430.6,307.7 433.0,324.0 435.6,310.3 437.9,306.5 439.5,318.9 441.0,306.9 443.2,317.3 444.3,319.5 447.0,298.3 449.0,324.6 451.6,308.3 452.9,318.9 455.3,303.4 456.4,323.8 457.3,309.4 459.2,321.7 459.8,323.6" stroke="#4a4a4a" stroke-width="0.9" fill="none" stroke-linejoin="round" opacity="1"/>
<path d="M403.2 202.3H413.5" stroke="#8a8a8a" stroke-width="1.1"/>
<text transform="translate(416.3,205.3) scale(1,1.06)" font-size="8.5" text-anchor="start" font-weight="bold" fill="#1a1a1a" font-family='"Liberation Sans", sans-serif' >Raw Intensity</text>
<path d="M403.2 213.5H413.5" stroke="#d49a88" stroke-width="1.1"/>
<text transform="translate(416.3,216.5) scale(1,1.06)" font-size="8.5" text-anchor="start" font-weight="bold" fill="#1a1a1a" font-family='"Liberation Sans", sans-serif' >Peak Sum</text>
<path d="M403.2 224.4H413.5" stroke="#c4c4c4" stroke-width="1.1"/>
<text transform="translate(416.3,227.4) scale(1,1.06)" font-size="8.5" text-anchor="start" font-weight="bold" fill="#1a1a1a" font-family='"Liberation Sans", sans-serif' >Background</text>
<path d="M403.2 235.6H413.5" stroke="#6a9e9e" stroke-width="1.1"/>
<text transform="translate(416.3,238.6) scale(1,1.06)" font-size="8.5" text-anchor="start" font-weight="bold" fill="#1a1a1a" font-family='"Liberation Sans", sans-serif' >Peak 1</text>
<path d="M403.2 246.9H413.5" stroke="#c460a8" stroke-width="1.1"/>
<text transform="translate(416.3,249.9) scale(1,1.06)" font-size="8.5" text-anchor="start" font-weight="bold" fill="#1a1a1a" font-family='"Liberation Sans", sans-serif' >Peak 2</text>
<path d="M403.2 257.7H413.5" stroke="#b0a050" stroke-width="1.1"/>
<text transform="translate(416.3,260.7) scale(1,1.06)" font-size="8.5" text-anchor="start" font-weight="bold" fill="#1a1a1a" font-family='"Liberation Sans", sans-serif' >Peak 3</text>
<text transform="translate(334.1,212.7) scale(1,1.06)" font-size="8" text-anchor="start" font-weight="bold" fill="#1a1a1a" font-family='"Liberation Sans", sans-serif' >Y 3d</text>
<path d="M348.9 214.7L352.8 218.9" stroke="#111" stroke-width="0.9"/>
<path d="M355 221.3L351.7 220.0L354.0 217.9Z" fill="#111"/>
<text transform="translate(371.9,211.8) scale(1,1.06)" font-size="7.5" text-anchor="start" font-weight="bold" fill="#1a1a1a" font-family='"Liberation Sans", sans-serif' >Y 3d</text>
<path d="M374.8 213.6L377.9 223.0" stroke="#111" stroke-width="1.0"/>
<path d="M378.9 226L376.4 223.5L379.4 222.5Z" fill="#111"/>
<text transform="translate(315.1,284) scale(1,1.06)" font-size="8" text-anchor="start" font-weight="bold" fill="#1a1a1a" font-family='"Liberation Sans", sans-serif' >Y 3d</text>
<path d="M322.2 287.2L326.9 293.9" stroke="#111" stroke-width="0.9"/>
<path d="M328.8 296.5L325.6 294.8L328.3 293.0Z" fill="#111"/>
<rect x="42.8" y="377" width="192.6" height="143.2" fill="none" stroke="#8a8a8a" stroke-width="1"/>
<path d="M42.8 508.3h-3M42.8 484.4h-3M42.8 460.5h-3M42.8 436.7h-3M42.8 412.8h-3M42.8 388.9h-3" stroke="#8a8a8a" stroke-width="0.8" fill="none"/>
<path d="M42.8 520.2h-1.6M42.8 508.3h-1.6M42.8 496.3h-1.6M42.8 484.4h-1.6M42.8 472.5h-1.6M42.8 460.5h-1.6M42.8 448.6h-1.6M42.8 436.7h-1.6M42.8 424.7h-1.6M42.8 412.8h-1.6M42.8 400.9h-1.6M42.8 388.9h-1.6" stroke="#8a8a8a" stroke-width="0.8" fill="none"/>
<path d="M42.8 520.2v3M64.2 520.2v3M85.6 520.2v3M107.0 520.2v3M128.4 520.2v3M149.8 520.2v3M171.2 520.2v3M192.6 520.2v3M214.0 520.2v3M235.4 520.2v3" stroke="#8a8a8a" stroke-width="0.8" fill="none"/>
<path d="M53.5 520.2v1.6M74.9 520.2v1.6M96.3 520.2v1.6M117.7 520.2v1.6M139.1 520.2v1.6M160.5 520.2v1.6M181.9 520.2v1.6M203.3 520.2v1.6M224.7 520.2v1.6" stroke="#8a8a8a" stroke-width="0.8" fill="none"/>
<text transform="translate(38,510.8) scale(1,1.06)" font-size="7.6" text-anchor="end" font-weight="bold" fill="#1a1a1a" font-family='"Liberation Sans", sans-serif' >39,000</text>
<text transform="translate(38,486.9) scale(1,1.06)" font-size="7.6" text-anchor="end" font-weight="bold" fill="#1a1a1a" font-family='"Liberation Sans", sans-serif' >40,000</text>
<text transform="translate(38,463.0) scale(1,1.06)" font-size="7.6" text-anchor="end" font-weight="bold" fill="#1a1a1a" font-family='"Liberation Sans", sans-serif' >41,000</text>
<text transform="translate(38,439.2) scale(1,1.06)" font-size="7.6" text-anchor="end" font-weight="bold" fill="#1a1a1a" font-family='"Liberation Sans", sans-serif' >42,000</text>
<text transform="translate(38,415.3) scale(1,1.06)" font-size="7.6" text-anchor="end" font-weight="bold" fill="#1a1a1a" font-family='"Liberation Sans", sans-serif' >43,000</text>
<text transform="translate(38,391.4) scale(1,1.06)" font-size="7.6" text-anchor="end" font-weight="bold" fill="#1a1a1a" font-family='"Liberation Sans", sans-serif' >44,000</text>
<text transform="translate(42.8,532) scale(1,1.06)" font-size="7.5" text-anchor="middle" font-weight="bold" fill="#1a1a1a" font-family='"Liberation Sans", sans-serif' >676</text>
<text transform="translate(64.2,532) scale(1,1.06)" font-size="7.5" text-anchor="middle" font-weight="bold" fill="#1a1a1a" font-family='"Liberation Sans", sans-serif' >678</text>
<text transform="translate(85.6,532) scale(1,1.06)" font-size="7.5" text-anchor="middle" font-weight="bold" fill="#1a1a1a" font-family='"Liberation Sans", sans-serif' >680</text>
<text transform="translate(107.0,532) scale(1,1.06)" font-size="7.5" text-anchor="middle" font-weight="bold" fill="#1a1a1a" font-family='"Liberation Sans", sans-serif' >682</text>
<text transform="translate(128.4,532) scale(1,1.06)" font-size="7.5" text-anchor="middle" font-weight="bold" fill="#1a1a1a" font-family='"Liberation Sans", sans-serif' >684</text>
<text transform="translate(149.8,532) scale(1,1.06)" font-size="7.5" text-anchor="middle" font-weight="bold" fill="#1a1a1a" font-family='"Liberation Sans", sans-serif' >686</text>
<text transform="translate(171.2,532) scale(1,1.06)" font-size="7.5" text-anchor="middle" font-weight="bold" fill="#1a1a1a" font-family='"Liberation Sans", sans-serif' >688</text>
<text transform="translate(192.6,532) scale(1,1.06)" font-size="7.5" text-anchor="middle" font-weight="bold" fill="#1a1a1a" font-family='"Liberation Sans", sans-serif' >690</text>
<text transform="translate(214.0,532) scale(1,1.06)" font-size="7.5" text-anchor="middle" font-weight="bold" fill="#1a1a1a" font-family='"Liberation Sans", sans-serif' >692</text>
<text transform="translate(235.4,532) scale(1,1.06)" font-size="7.5" text-anchor="middle" font-weight="bold" fill="#1a1a1a" font-family='"Liberation Sans", sans-serif' >694</text>
<text transform="translate(139.5,542.6) scale(1,1.06)" font-size="7.75" text-anchor="middle" font-weight="bold" fill="#1a1a1a" font-family='"Liberation Sans", sans-serif' >Binding Energy (eV)</text>
<text transform="translate(10.2,445.7) rotate(-90) scale(1.119,1)" font-size="7.3" text-anchor="middle" font-weight="bold" fill="#1a1a1a" font-family='"Liberation Sans", sans-serif'>Intensity (a.u.)</text>
<text transform="translate(51.2,409.8) scale(1,1.0)" font-size="28" fill="#111" style="stroke:#111;stroke-width:0.45px" font-family='"Liberation Serif", serif'>e</text>
<path d="M64.9,489.2 65.5,489.2 66.1,489.3 66.7,489.3 67.3,489.4 67.9,489.4 68.5,489.5 69.1,489.6 69.7,489.6 70.3,489.7 70.9,489.7 71.5,489.8 72.1,489.8 72.7,489.9 73.3,489.9 73.9,490.0 74.5,490.1 75.1,490.1 75.7,490.2 76.3,490.2 76.9,490.3 77.5,490.3 78.1,490.4 78.7,490.4 79.3,490.5 79.9,490.5 80.5,490.6 81.1,490.7 81.7,490.7 82.3,490.8 82.9,490.8 83.5,490.9 84.1,490.9 84.7,491.0 85.3,491.0 85.9,491.1 86.5,491.1 87.1,491.2 87.7,491.3 88.3,491.3 88.9,491.4 89.5,491.4 90.1,491.5 90.7,491.5 91.3,491.6 91.9,491.6 92.5,491.7 93.1,491.8 93.7,491.8 94.3,491.9 94.9,491.9 95.5,492.0 96.1,492.0 96.7,492.1 97.3,492.1 97.9,492.2 98.5,492.2 99.1,492.3 99.7,492.4 100.3,492.4 100.9,492.5 101.5,492.5 102.1,492.6 102.7,492.6 103.3,492.7 103.9,492.7 104.5,492.8 105.1,492.8 105.7,492.9 106.3,493.0 106.9,493.0 107.5,493.1 108.1,493.1 108.7,493.2 109.3,493.2 109.9,493.3 110.5,493.3 111.1,493.4 111.7,493.5 112.3,493.5 112.9,493.6 113.5,493.6 114.1,493.7 114.7,493.7 115.3,493.8 115.9,493.8 116.5,493.9 117.1,493.9 117.7,494.0 118.3,494.1 118.9,494.1 119.5,494.2 120.1,494.2 120.7,494.3 121.3,494.3 121.9,494.4 122.5,494.4 123.1,494.5 123.7,494.6 124.3,494.6 124.9,494.7 125.5,494.7 126.1,494.8 126.7,494.8 127.3,494.9 127.9,494.9 128.5,495.0 129.1,495.0 129.7,495.1 130.3,495.2 130.9,495.2 131.5,495.3 132.1,495.3 132.7,495.4 133.3,495.4 133.9,495.5 134.5,495.5 135.1,495.6 135.7,495.6 136.3,495.7 136.9,495.8 137.5,495.8 138.1,495.9 138.7,495.9 139.3,496.0 139.9,496.0 140.5,496.1 141.1,496.1 141.7,496.2 142.3,496.3 142.9,496.3 143.5,496.4 144.1,496.4 144.7,496.5 145.3,496.5 145.9,496.6 146.5,496.6 147.1,496.7 147.7,496.7 148.3,496.8 148.9,496.9 149.5,496.9 150.1,497.0 150.7,497.0 151.3,497.1 151.9,497.1 152.5,497.2 153.1,497.2 153.7,497.3 154.3,497.3 154.9,497.4 155.5,497.5 156.1,497.5 156.7,497.6 157.3,497.6 157.9,497.7 158.5,497.7 159.1,497.8 159.7,497.8 160.3,497.9 160.9,498.0 161.5,498.0 162.1,498.1 162.7,498.1 163.3,498.2 163.9,498.2 164.5,498.3 165.1,498.3 165.7,498.4 166.3,498.4 166.9,498.5 167.5,498.6 168.1,498.6 168.7,498.7 169.3,498.7 169.9,498.8 170.5,498.8 171.1,498.9 171.7,498.9 172.3,499.0 172.9,499.1 173.5,499.1 174.1,499.2 174.7,499.2 175.3,499.3 175.9,499.3 176.5,499.4 177.1,499.4 177.7,499.5 178.3,499.5 178.9,499.6 179.5,499.7 180.1,499.7 180.7,499.8 181.3,499.8 181.9,499.9 182.5,499.9 183.1,500.0 183.7,500.0 184.3,500.1 184.9,500.1 185.5,500.2 186.1,500.3 186.7,500.3 187.3,500.4 187.9,500.4 188.5,500.5 189.1,500.5 189.7,500.6 190.3,500.6 190.9,500.7 191.5,500.8 192.1,500.8 192.7,500.9 193.3,500.9 193.9,501.0 194.5,501.0 195.1,501.1 195.7,501.1 196.3,501.2 196.9,501.2 197.5,501.3 198.1,501.4 198.7,501.4 199.3,501.5 199.9,501.5 200.5,501.6 201.1,501.6 201.7,501.7 202.3,501.7 202.9,501.8 203.5,501.8 204.1,501.9 204.7,502.0 205.3,502.0 205.9,502.1 206.5,502.1 207.1,502.2 207.7,502.2 208.3,502.3 208.9,502.3 209.5,502.4 210.1,502.5 210.7,502.5 211.3,502.6 211.9,502.6 212.5,502.7 213.1,502.7 213.7,502.8 214.3,502.8 214.9,502.9 215.5,502.9 216.1,503.0 216.7,503.1 217.3,503.1 218.3,503.2" stroke="#d4d4d4" stroke-width="1.0" fill="none" stroke-linejoin="round" opacity="1"/>
<path d="M64.9,488.8 65.5,488.9 66.1,488.9 66.7,489.0 67.3,489.0 67.9,489.1 68.5,489.1 69.1,489.2 69.7,489.2 70.3,489.3 70.9,489.3 71.5,489.4 72.1,489.4 72.7,489.5 73.3,489.5 73.9,489.6 74.5,489.6 75.1,489.7 75.7,489.7 76.3,489.8 76.9,489.8 77.5,489.9 78.1,489.9 78.7,490.0 79.3,490.0 79.9,490.0 80.5,490.1 81.1,490.1 81.7,490.2 82.3,490.2 82.9,490.3 83.5,490.3 84.1,490.4 84.7,490.4 85.3,490.4 85.9,490.5 86.5,490.5 87.1,490.6 87.7,490.6 88.3,490.6 88.9,490.7 89.5,490.7 90.1,490.7 90.7,490.8 91.3,490.8 91.9,490.8 92.5,490.9 93.1,490.9 93.7,490.9 94.3,490.9 94.9,491.0 95.5,491.0 96.1,491.0 96.7,491.0 97.3,491.0 97.9,491.0 98.5,491.0 99.1,491.0 99.7,490.9 100.3,490.9 100.9,490.8 101.5,490.8 102.1,490.7 102.7,490.6 103.3,490.5 103.9,490.4 104.5,490.3 105.1,490.1 105.7,489.9 106.3,489.7 106.9,489.5 107.5,489.3 108.1,489.0 108.7,488.6 109.3,488.3 109.9,487.9 110.5,487.5 111.1,487.0 111.7,486.4 112.3,485.9 112.9,485.2 113.5,484.5 114.1,483.8 114.7,483.0 115.3,482.1 115.9,481.2 116.5,480.2 117.1,479.1 117.7,477.9 118.3,476.7 118.9,475.4 119.5,474.0 120.1,472.6 120.7,471.1 121.3,469.5 121.9,467.8 122.5,466.0 123.1,464.2 123.7,462.3 124.3,460.4 124.9,458.4 125.5,456.3 126.1,454.2 126.7,452.0 127.3,449.8 127.9,447.6 128.5,445.4 129.1,443.1 129.7,440.8 130.3,438.5 130.9,436.3 131.5,434.1 132.1,431.9 132.7,429.7 133.3,427.6 133.9,425.6 134.5,423.7 135.1,421.8 135.7,420.0 136.3,418.4 136.9,416.9 137.5,415.5 138.1,414.3 138.7,413.2 139.3,412.3 139.9,411.5 140.5,411.0 141.1,410.6 141.7,410.4 142.3,410.3 142.9,410.5 143.5,410.8 144.1,411.4 144.7,412.1 145.3,413.0 145.9,414.0 146.5,415.2 147.1,416.6 147.7,418.1 148.3,419.7 148.9,421.5 149.5,423.4 150.1,425.3 150.7,427.4 151.3,429.5 151.9,431.8 152.5,434.0 153.1,436.3 153.7,438.7 154.3,441.0 154.9,443.4 155.5,445.8 156.1,448.2 156.7,450.5 157.3,452.9 157.9,455.2 158.5,457.4 159.1,459.7 159.7,461.8 160.3,463.9 160.9,466.0 161.5,468.0 162.1,469.9 162.7,471.8 163.3,473.5 163.9,475.2 164.5,476.9 165.1,478.4 165.7,479.9 166.3,481.3 166.9,482.6 167.5,483.8 168.1,485.0 168.7,486.1 169.3,487.2 169.9,488.1 170.5,489.1 171.1,489.9 171.7,490.7 172.3,491.4 172.9,492.1 173.5,492.7 174.1,493.3 174.7,493.9 175.3,494.4 175.9,494.8 176.5,495.3 177.1,495.7 177.7,496.0 178.3,496.4 178.9,496.7 179.5,497.0 180.1,497.2 180.7,497.5 181.3,497.7 181.9,497.9 182.5,498.1 183.1,498.3 183.7,498.4 184.3,498.6 184.9,498.7 185.5,498.9 186.1,499.0 186.7,499.1 187.3,499.2 187.9,499.3 188.5,499.4 189.1,499.5 189.7,499.6 190.3,499.7 190.9,499.8 191.5,499.9 192.1,500.0 192.7,500.1 193.3,500.1 193.9,500.2 194.5,500.3 195.1,500.4 195.7,500.4 196.3,500.5 196.9,500.6 197.5,500.7 198.1,500.7 198.7,500.8 199.3,500.9 199.9,500.9 200.5,501.0 201.1,501.1 201.7,501.1 202.3,501.2 202.9,501.3 203.5,501.3 204.1,501.4 204.7,501.5 205.3,501.5 205.9,501.6 206.5,501.6 207.1,501.7 207.7,501.8 208.3,501.8 208.9,501.9 209.5,502.0 210.1,502.0 210.7,502.1 211.3,502.1 211.9,502.2 212.5,502.3 213.1,502.3 213.7,502.4 214.3,502.5 214.9,502.5 215.5,502.6 216.1,502.6 216.7,502.7 217.3,502.8 218.3,502.9" stroke="#3a9a98" stroke-width="1.1" fill="none" stroke-linejoin="round" opacity="1"/>
<path d="M64.9,488.4 65.5,488.4 66.1,488.5 66.7,488.5 67.3,488.5 67.9,488.6 68.5,488.6 69.1,488.6 69.7,488.7 70.3,488.7 70.9,488.7 71.5,488.8 72.1,488.8 72.7,488.8 73.3,488.9 73.9,488.9 74.5,488.9 75.1,488.9 75.7,488.9 76.3,489.0 76.9,489.0 77.5,489.0 78.1,489.0 78.7,489.0 79.3,489.0 79.9,489.0 80.5,489.1 81.1,489.1 81.7,489.0 82.3,489.0 82.9,489.0 83.5,489.0 84.1,489.0 84.7,489.0 85.3,488.9 85.9,488.9 86.5,488.8 87.1,488.8 87.7,488.7 88.3,488.6 88.9,488.5 89.5,488.4 90.1,488.3 90.7,488.2 91.3,488.0 91.9,487.9 92.5,487.7 93.1,487.4 93.7,487.2 94.3,486.9 94.9,486.6 95.5,486.3 96.1,485.9 96.7,485.6 97.3,485.1 97.9,484.7 98.5,484.2 99.1,483.6 99.7,483.1 100.3,482.4 100.9,481.8 101.5,481.1 102.1,480.4 102.7,479.6 103.3,478.8 103.9,477.9 104.5,477.0 105.1,476.1 105.7,475.2 106.3,474.3 106.9,473.3 107.5,472.3 108.1,471.3 108.7,470.3 109.3,469.4 109.9,468.4 110.5,467.5 111.1,466.7 111.7,465.9 112.3,465.2 112.9,464.5 113.5,464.0 114.1,463.6 114.7,463.3 115.3,463.1 115.9,463.1 116.5,463.1 117.1,463.4 117.7,463.7 118.3,464.2 118.9,464.8 119.5,465.5 120.1,466.3 120.7,467.2 121.3,468.1 121.9,469.1 122.5,470.1 123.1,471.2 123.7,472.2 124.3,473.3 124.9,474.4 125.5,475.5 126.1,476.6 126.7,477.6 127.3,478.7 127.9,479.7 128.5,480.6 129.1,481.6 129.7,482.5 130.3,483.3 130.9,484.2 131.5,485.0 132.1,485.7 132.7,486.4 133.3,487.1 133.9,487.7 134.5,488.3 135.1,488.8 135.7,489.4 136.3,489.8 136.9,490.3 137.5,490.7 138.1,491.1 138.7,491.5 139.3,491.8 139.9,492.1 140.5,492.4 141.1,492.7 141.7,492.9 142.3,493.2 142.9,493.4 143.5,493.6 144.1,493.8 144.7,494.0 145.3,494.2 145.9,494.3 146.5,494.5 147.1,494.6 147.7,494.8 148.3,494.9 148.9,495.0 149.5,495.2 150.1,495.3 150.7,495.4 151.3,495.5 151.9,495.6 152.5,495.7 153.1,495.8 153.7,495.9 154.3,496.0 154.9,496.1 155.5,496.2 156.1,496.3 156.7,496.4 157.3,496.5 157.9,496.5 158.5,496.6 159.1,496.7 159.7,496.8 160.3,496.9 160.9,497.0 161.5,497.0 162.1,497.1 162.7,497.2 163.3,497.3 163.9,497.3 164.5,497.4 165.1,497.5 165.7,497.6 166.3,497.6 166.9,497.7 167.5,497.8 168.1,497.9 168.7,497.9 169.3,498.0 169.9,498.1 170.5,498.1 171.1,498.2 171.7,498.3 172.3,498.3 172.9,498.4 173.5,498.5 174.1,498.6 174.7,498.6 175.3,498.7 175.9,498.8 176.5,498.8 177.1,498.9 177.7,498.9 178.3,499.0 178.9,499.1 179.5,499.1 180.1,499.2 180.7,499.3 181.3,499.3 181.9,499.4 182.5,499.5 183.1,499.5 183.7,499.6 184.3,499.6 184.9,499.7 185.5,499.8 186.1,499.8 186.7,499.9 187.3,500.0 187.9,500.0 188.5,500.1 189.1,500.1 189.7,500.2 190.3,500.3 190.9,500.3 191.5,500.4 192.1,500.4 192.7,500.5 193.3,500.6 193.9,500.6 194.5,500.7 195.1,500.7 195.7,500.8 196.3,500.9 196.9,500.9 197.5,501.0 198.1,501.0 198.7,501.1 199.3,501.2 199.9,501.2 200.5,501.3 201.1,501.3 201.7,501.4 202.3,501.5 202.9,501.5 203.5,501.6 204.1,501.6 204.7,501.7 205.3,501.8 205.9,501.8 206.5,501.9 207.1,501.9 207.7,502.0 208.3,502.0 208.9,502.1 209.5,502.2 210.1,502.2 210.7,502.3 211.3,502.3 211.9,502.4 212.5,502.4 213.1,502.5 213.7,502.6 214.3,502.6 214.9,502.7 215.5,502.7 216.1,502.8 216.7,502.8 217.3,502.9 218.3,503.0" stroke="#b86a98" stroke-width="1.1" fill="none" stroke-linejoin="round" opacity="1"/>
<path d="M64.9,489.2 65.5,489.2 66.1,489.1 66.7,489.1 67.3,489.1 67.9,489.1 68.5,489.0 69.1,489.0 69.7,489.0 70.3,489.0 70.9,488.9 71.5,488.9 72.1,488.9 72.7,488.9 73.3,488.9 73.9,488.8 74.5,488.8 75.1,488.8 75.7,488.8 76.3,488.8 76.9,488.8 77.5,488.8 78.1,488.7 78.7,488.7 79.3,488.7 79.9,488.7 80.5,488.7 81.1,488.7 81.7,488.6 82.3,488.6 82.9,488.6 83.5,488.5 84.1,488.5 84.7,488.4 85.3,488.3 85.9,488.3 86.5,488.2 87.1,488.1 87.7,488.0 88.3,487.9 88.9,487.7 89.5,487.6 90.1,487.4 90.7,487.2 91.3,486.9 91.9,486.5 92.5,486.1 93.1,485.6 93.7,485.0 94.3,484.5 94.9,483.8 95.5,483.2 96.1,482.5 96.7,481.7 97.3,481.0 97.9,480.3 98.5,479.5 99.1,478.8 99.7,478.0 100.3,477.3 100.9,476.5 101.5,475.8 102.1,475.0 102.7,474.2 103.3,473.4 103.9,472.6 104.5,471.8 105.1,470.9 105.7,470.0 106.3,469.1 106.9,468.3 107.5,467.4 108.1,466.5 108.7,465.6 109.3,464.7 109.9,463.9 110.5,463.0 111.1,462.2 111.7,461.4 112.3,460.6 112.9,459.8 113.5,459.1 114.1,458.4 114.7,457.7 115.3,457.0 115.9,456.3 116.5,455.6 117.1,454.8 117.7,454.1 118.3,453.4 118.9,452.6 119.5,451.7 120.1,450.9 120.7,450.0 121.3,449.1 121.9,448.1 122.5,447.2 123.1,446.2 123.7,445.3 124.3,444.3 124.9,443.2 125.5,442.2 126.1,441.1 126.7,440.0 127.3,438.8 127.9,437.6 128.5,436.4 129.1,435.1 129.7,433.7 130.3,432.2 130.9,430.7 131.5,429.1 132.1,427.4 132.7,425.8 133.3,424.1 133.9,422.4 134.5,420.8 135.1,419.3 135.7,417.8 136.3,416.3 136.9,414.8 137.5,413.3 138.1,411.9 138.7,410.5 139.3,409.4 139.9,408.5 140.5,407.9 141.1,407.6 141.7,407.4 142.3,407.3 142.9,407.3 143.5,407.6 144.1,408.2 144.7,409.1 145.3,410.3 145.9,411.7 146.5,413.2 147.1,414.8 147.7,416.5 148.3,418.2 148.9,419.9 149.5,421.6 150.1,423.4 150.7,425.3 151.3,427.3 151.9,429.3 152.5,431.4 153.1,433.6 153.7,435.7 154.3,437.9 154.9,440.2 155.5,442.4 156.1,444.7 156.7,447.1 157.3,449.6 157.9,452.2 158.5,454.7 159.1,457.3 159.7,459.7 160.3,462.2 160.9,464.5 161.5,466.6 162.1,468.6 162.7,470.6 163.3,472.4 163.9,474.2 164.5,475.9 165.1,477.6 165.7,479.1 166.3,480.6 166.9,482.0 167.5,483.3 168.1,484.6 168.7,485.7 169.3,486.8 169.9,487.8 170.5,488.7 171.1,489.6 171.7,490.4 172.3,491.2 172.9,491.9 173.5,492.6 174.1,493.2 174.7,493.8 175.3,494.3 175.9,494.8 176.5,495.3 177.1,495.7 177.7,496.1 178.3,496.5 178.9,496.8 179.5,497.1 180.1,497.4 180.7,497.6 181.3,497.8 181.9,498.0 182.5,498.2 183.1,498.3 183.7,498.4 184.3,498.5 184.9,498.6 185.5,498.7 186.1,498.7 186.7,498.8 187.3,498.8 187.9,498.9 188.5,498.9 189.1,499.0 189.7,499.0 190.3,499.1 190.9,499.1 191.5,499.2 192.1,499.3 192.7,499.4 193.3,499.5 193.9,499.6 194.5,499.7 195.1,499.8 195.7,499.9 196.3,500.0 196.9,500.1 197.5,500.2 198.1,500.3 198.7,500.4 199.3,500.4 199.9,500.5 200.5,500.6 201.1,500.7 201.7,500.8 202.3,500.9 202.9,501.0 203.5,501.1 204.1,501.2 204.7,501.3 205.3,501.4 205.9,501.5 206.5,501.6 207.1,501.7 207.7,501.8 208.3,501.9 208.9,502.0 209.5,502.1 210.1,502.1 210.7,502.2 211.3,502.3 211.9,502.4 212.5,502.5 213.1,502.6 213.7,502.7 214.3,502.8 214.9,502.9 215.5,503.0 216.1,503.1 216.7,503.2 217.3,503.3 218.3,503.4" stroke="#e07a78" stroke-width="1.2" fill="none" stroke-linejoin="round" opacity="1"/>
<path d="M64.9,489.2 66.5,488.8 68.2,480.4 70.6,485.7 73.2,480.3 74.9,490.2 78.3,483.7 80.7,489.9 82.2,486.0 84.5,481.9 86.1,489.0 89.2,478.3 92.3,485.8 93.7,476.3 97.2,474.4 99.4,481.2 100.7,471.4 103.0,474.9 104.7,466.6 106.3,469.4 108.4,462.3 109.7,458.5 112.5,462.8 114.7,460.5 118.1,449.6 121.4,448.1 124.5,436.0 126.3,441.4 127.6,432.1 130.6,431.4 133.1,421.1 136.3,418.2 138.5,403.5 141.0,411.1 143.9,405.9 146.7,414.0 148.8,422.1 150.2,421.4 151.7,424.0 154.2,438.4 155.8,439.7 158.3,455.4 161.4,463.9 162.7,470.2 164.4,471.5 166.6,483.6 169.0,475.2 171.6,488.8 173.6,485.3 174.9,484.9 176.8,489.1 178.1,485.4 180.8,493.8 183.3,488.8 184.5,493.1 187.7,489.1 189.8,495.1 191.2,489.3 194.6,495.8 197.4,496.5 199.2,495.5 202.4,500.9 204.3,491.8 206.8,496.4 209.9,493.8 212.8,497.5 215.6,491.3 217.4,494.8 218.3,503.4" stroke="#333333" stroke-width="0.9" fill="none" stroke-linejoin="round" opacity="1"/>
<path d="M163.2 392.2H173.4" stroke="#707878" stroke-width="1.2"/>
<text transform="translate(176.2,395.2) scale(1,1.06)" font-size="8.3" text-anchor="start" font-weight="bold" fill="#1a1a1a" font-family='"Liberation Sans", sans-serif' >Raw Intensity</text>
<path d="M163.2 402.6H173.4" stroke="#d8a8a0" stroke-width="1.2"/>
<text transform="translate(176.2,405.6) scale(1,1.06)" font-size="8.3" text-anchor="start" font-weight="bold" fill="#1a1a1a" font-family='"Liberation Sans", sans-serif' >Peak Sum</text>
<path d="M163.2 413.2H173.4" stroke="#f0f0f0" stroke-width="1.2"/>
<text transform="translate(176.2,416.2) scale(1,1.06)" font-size="8.3" text-anchor="start" font-weight="bold" fill="#1a1a1a" font-family='"Liberation Sans", sans-serif' >Background</text>
<path d="M163.2 423.9H173.4" stroke="#7ab0b0" stroke-width="1.2"/>
<text transform="translate(176.2,426.9) scale(1,1.06)" font-size="8.3" text-anchor="start" font-weight="bold" fill="#1a1a1a" font-family='"Liberation Sans", sans-serif' >Peak 1</text>
<path d="M163.2 434.3H173.4" stroke="#b08090" stroke-width="1.2"/>
<text transform="translate(176.2,437.3) scale(1,1.06)" font-size="8.3" text-anchor="start" font-weight="bold" fill="#1a1a1a" font-family='"Liberation Sans", sans-serif' >Peak 2</text>
<text transform="translate(122.3,397.5) scale(1,1.06)" font-size="8" text-anchor="start" font-weight="bold" fill="#1a1a1a" font-family='"Liberation Sans", sans-serif' >F 1s</text>
<path d="M133 401L137.6 407.0" stroke="#111" stroke-width="0.9"/>
<path d="M139.5 409.6L136.3 408.0L138.8 406.1Z" fill="#111"/>
<text transform="translate(97.6,455.5) scale(1,1.06)" font-size="8" text-anchor="start" font-weight="bold" fill="#1a1a1a" font-family='"Liberation Sans", sans-serif' >F 1s</text>
<path d="M106.3 458L112.3 461.4" stroke="#111" stroke-width="0.9"/>
<path d="M115.1 463L111.5 462.8L113.1 460.0Z" fill="#111"/>
<rect x="279.1" y="368.3" width="198.8" height="155.1" fill="none" stroke="#8a8a8a" stroke-width="1"/>
<path d="M279.1 514.8h-3M279.1 497.5h-3M279.1 480.3h-3M279.1 463.1h-3M279.1 445.9h-3M279.1 428.6h-3M279.1 411.4h-3M279.1 394.1h-3M279.1 376.9h-3" stroke="#8a8a8a" stroke-width="0.8" fill="none"/>
<path d="M279.1 523.4h-1.6M279.1 506.2h-1.6M279.1 488.9h-1.6M279.1 471.7h-1.6M279.1 454.5h-1.6M279.1 437.2h-1.6M279.1 420.0h-1.6M279.1 402.8h-1.6M279.1 385.5h-1.6M279.1 368.3h-1.6" stroke="#8a8a8a" stroke-width="0.8" fill="none"/>
<path d="M279.1 523.4v3M300.0 523.4v3M320.9 523.4v3M341.8 523.4v3M362.7 523.4v3M383.6 523.4v3M404.5 523.4v3M425.4 523.4v3M446.3 523.4v3M467.2 523.4v3" stroke="#8a8a8a" stroke-width="0.8" fill="none"/>
<path d="M289.5 523.4v1.6M300.0 523.4v1.6M310.4 523.4v1.6M320.9 523.4v1.6M331.3 523.4v1.6M341.8 523.4v1.6M352.2 523.4v1.6M362.7 523.4v1.6M373.1 523.4v1.6M383.6 523.4v1.6M394.0 523.4v1.6M404.5 523.4v1.6M414.9 523.4v1.6M425.4 523.4v1.6M435.8 523.4v1.6M446.3 523.4v1.6M456.7 523.4v1.6M467.2 523.4v1.6M477.6 523.4v1.6" stroke="#8a8a8a" stroke-width="0.8" fill="none"/>
<text transform="translate(273.9,517.4) scale(1,1.06)" font-size="7.6" text-anchor="end" font-weight="bold" fill="#1a1a1a" font-family='"Liberation Sans", sans-serif' >3,800</text>
<text transform="translate(273.9,500.1) scale(1,1.06)" font-size="7.6" text-anchor="end" font-weight="bold" fill="#1a1a1a" font-family='"Liberation Sans", sans-serif' >4,000</text>
<text transform="translate(273.9,482.9) scale(1,1.06)" font-size="7.6" text-anchor="end" font-weight="bold" fill="#1a1a1a" font-family='"Liberation Sans", sans-serif' >4,200</text>
<text transform="translate(273.9,465.7) scale(1,1.06)" font-size="7.6" text-anchor="end" font-weight="bold" fill="#1a1a1a" font-family='"Liberation Sans", sans-serif' >4,400</text>
<text transform="translate(273.9,448.5) scale(1,1.06)" font-size="7.6" text-anchor="end" font-weight="bold" fill="#1a1a1a" font-family='"Liberation Sans", sans-serif' >4,600</text>
<text transform="translate(273.9,431.2) scale(1,1.06)" font-size="7.6" text-anchor="end" font-weight="bold" fill="#1a1a1a" font-family='"Liberation Sans", sans-serif' >4,800</text>
<text transform="translate(273.9,414.0) scale(1,1.06)" font-size="7.6" text-anchor="end" font-weight="bold" fill="#1a1a1a" font-family='"Liberation Sans", sans-serif' >5,000</text>
<text transform="translate(273.9,396.8) scale(1,1.06)" font-size="7.6" text-anchor="end" font-weight="bold" fill="#1a1a1a" font-family='"Liberation Sans", sans-serif' >5,200</text>
<text transform="translate(273.9,379.5) scale(1,1.06)" font-size="7.6" text-anchor="end" font-weight="bold" fill="#1a1a1a" font-family='"Liberation Sans", sans-serif' >5,400</text>
<text transform="translate(279.1,534.4) scale(1,1.06)" font-size="7.45" text-anchor="middle" font-weight="bold" fill="#1a1a1a" font-family='"Liberation Sans", sans-serif' >148</text>
<text transform="translate(300.0,534.4) scale(1,1.06)" font-size="7.45" text-anchor="middle" font-weight="bold" fill="#1a1a1a" font-family='"Liberation Sans", sans-serif' >150</text>
<text transform="translate(320.9,534.4) scale(1,1.06)" font-size="7.45" text-anchor="middle" font-weight="bold" fill="#1a1a1a" font-family='"Liberation Sans", sans-serif' >152</text>
<text transform="translate(341.8,534.4) scale(1,1.06)" font-size="7.45" text-anchor="middle" font-weight="bold" fill="#1a1a1a" font-family='"Liberation Sans", sans-serif' >154</text>
<text transform="translate(362.7,534.4) scale(1,1.06)" font-size="7.45" text-anchor="middle" font-weight="bold" fill="#1a1a1a" font-family='"Liberation Sans", sans-serif' >156</text>
<text transform="translate(383.6,534.4) scale(1,1.06)" font-size="7.45" text-anchor="middle" font-weight="bold" fill="#1a1a1a" font-family='"Liberation Sans", sans-serif' >158</text>
<text transform="translate(404.5,534.4) scale(1,1.06)" font-size="7.45" text-anchor="middle" font-weight="bold" fill="#1a1a1a" font-family='"Liberation Sans", sans-serif' >160</text>
<text transform="translate(425.4,534.4) scale(1,1.06)" font-size="7.45" text-anchor="middle" font-weight="bold" fill="#1a1a1a" font-family='"Liberation Sans", sans-serif' >162</text>
<text transform="translate(446.3,534.4) scale(1,1.06)" font-size="7.45" text-anchor="middle" font-weight="bold" fill="#1a1a1a" font-family='"Liberation Sans", sans-serif' >164</text>
<text transform="translate(467.2,534.4) scale(1,1.06)" font-size="7.45" text-anchor="middle" font-weight="bold" fill="#1a1a1a" font-family='"Liberation Sans", sans-serif' >166</text>
<text transform="translate(378.5,543) scale(1,1.06)" font-size="8" text-anchor="middle" font-weight="bold" fill="#1a1a1a" font-family='"Liberation Sans", sans-serif' >Binding Energy (eV)</text>
<text transform="translate(251.4,445) rotate(-90) scale(1.13,1)" font-size="7.6" text-anchor="middle" font-weight="bold" fill="#1a1a1a" font-family='"Liberation Sans", sans-serif'>Intensity (a.u.)</text>
<text transform="translate(440.6,399.5) scale(1,1.05)" font-size="28" fill="#111" style="stroke:#111;stroke-width:0.45px" font-family='"Liberation Serif", serif'>f</text>
<path d="M314.3,509.4 314.9,509.4 315.5,509.4 316.1,509.4 316.7,509.4 317.3,509.4 317.9,509.4 318.5,509.4 319.1,509.4 319.7,509.4 320.3,509.4 320.9,509.4 321.5,509.4 322.1,509.4 322.7,509.4 323.3,509.4 323.9,509.4 324.5,509.4 325.1,509.4 325.7,509.4 326.3,509.4 326.9,509.4 327.5,509.4 328.1,509.4 328.7,509.4 329.3,509.4 329.9,509.4 330.5,509.4 331.1,509.4 331.7,509.4 332.3,509.4 332.9,509.4 333.5,509.4 334.1,509.4 334.7,509.4 335.3,509.4 335.9,509.4 336.5,509.4 337.1,509.4 337.7,509.4 338.3,509.4 338.9,509.4 339.5,509.4 340.1,509.4 340.7,509.4 341.3,509.4 341.9,509.4 342.5,509.4 343.1,509.4 343.7,509.4 344.3,509.4 344.9,509.4 345.5,509.4 346.1,509.4 346.7,509.4 347.3,509.4 347.9,509.4 348.5,509.4 349.1,509.4 349.7,509.4 350.3,509.4 350.9,509.4 351.5,509.4 352.1,509.4 352.7,509.4 353.3,509.4 353.9,509.4 354.5,509.4 355.1,509.4 355.7,509.4 356.3,509.4 356.9,509.4 357.5,509.4 358.1,509.4 358.7,509.4 359.3,509.4 359.9,509.4 360.5,509.4 361.1,509.4 361.7,509.4 362.3,509.4 362.9,509.4 363.5,509.4 364.1,509.4 364.7,509.4 365.3,509.4 365.9,509.4 366.5,509.4 367.1,509.4 367.7,509.4 368.3,509.4 368.9,509.4 369.5,509.4 370.1,509.4 370.7,509.4 371.3,509.4 371.9,509.4 372.5,509.4 373.1,509.4 373.7,509.4 374.3,509.4 374.9,509.4 375.5,509.4 376.1,509.4 376.7,509.4 377.3,509.4 377.9,509.4 378.5,509.4 379.1,509.4 379.7,509.4 380.3,509.4 380.9,509.4 381.5,509.4 382.1,509.4 382.7,509.4 383.3,509.4 383.9,509.4 384.5,509.4 385.1,509.4 385.7,509.4 386.3,509.4 386.9,509.4 387.5,509.4 388.1,509.4 388.7,509.4 389.3,509.4 389.9,509.4 390.5,509.4 391.1,509.4 391.7,509.4 392.3,509.4 392.9,509.4 393.5,509.4 394.1,509.4 394.7,509.4 395.3,509.4 395.9,509.4 396.5,509.4 397.1,509.4 397.7,509.4 398.3,509.4 398.9,509.4 399.5,509.4 400.1,509.4 400.7,509.4 401.3,509.4 401.9,509.4 402.5,509.4 403.1,509.4 403.7,509.4 404.3,509.4 404.9,509.4 405.5,509.4 406.1,509.4 406.7,509.4 407.3,509.4 407.9,509.4 408.5,509.4 409.1,509.4 409.7,509.4 410.3,509.4 410.9,509.4 411.5,509.4 412.1,509.4 412.7,509.4 413.3,509.4 413.9,509.4 414.5,509.4 415.1,509.4 415.7,509.4 416.3,509.4 416.9,509.4 417.5,509.4 418.1,509.4 418.7,509.4 419.3,509.4 419.9,509.4 420.5,509.4 421.1,509.4 421.7,509.4 422.3,509.4 422.9,509.4 423.5,509.4 424.1,509.4 424.7,509.4 425.3,509.4 425.9,509.4 426.5,509.4 427.1,509.4 427.7,509.4 428.3,509.4 428.9,509.4 429.5,509.4 430.1,509.4 430.7,509.4 431.3,509.4 431.9,509.4 432.5,509.4 433.1,509.4 433.7,509.4 434.3,509.4 434.9,509.4 435.5,509.4 436.1,509.4 436.7,509.4 437.3,509.4 437.9,509.4 438.5,509.4 439.1,509.4 439.7,509.4 440.3,509.4 440.9,509.4 441.5,509.4 442.1,509.4 442.7,509.4 443.3,509.4 443.9,509.4 444.5,509.4 445.1,509.4 445.7,509.4 446.3,509.4 446.9,509.4 447.5,509.4 448.1,509.4 448.7,509.4 449.3,509.4 449.9,509.4 450.5,509.4 451.1,509.4 451.7,509.4 452.3,509.4 452.9,509.4 453.5,509.4 454.1,509.4 454.7,509.4 455.3,509.4 455.9,509.4 456.5,509.4 457.1,509.4 457.7,509.4 458.3,509.4 458.9,509.4 459.5,509.4 460.1,509.4 460.7,509.4 461.3,509.4 461.9,509.4 462.5,509.4 463.6,509.4" stroke="#c4c4d8" stroke-width="1.0" fill="none" stroke-linejoin="round" opacity="1"/>
<path d="M314.3,509.3 314.9,509.3 315.5,509.3 316.1,509.3 316.7,509.3 317.3,509.3 317.9,509.3 318.5,509.3 319.1,509.3 319.7,509.3 320.3,509.3 320.9,509.3 321.5,509.3 322.1,509.3 322.7,509.3 323.3,509.3 323.9,509.3 324.5,509.3 325.1,509.3 325.7,509.3 326.3,509.3 326.9,509.3 327.5,509.3 328.1,509.3 328.7,509.2 329.3,509.2 329.9,509.2 330.5,509.2 331.1,509.2 331.7,509.2 332.3,509.2 332.9,509.2 333.5,509.2 334.1,509.2 334.7,509.2 335.3,509.1 335.9,509.1 336.5,509.1 337.1,509.1 337.7,509.1 338.3,509.0 338.9,509.0 339.5,508.9 340.1,508.9 340.7,508.8 341.3,508.7 341.9,508.6 342.5,508.5 343.1,508.4 343.7,508.3 344.3,508.1 344.9,507.9 345.5,507.6 346.1,507.3 346.7,507.0 347.3,506.6 347.9,506.2 348.5,505.7 349.1,505.2 349.7,504.6 350.3,503.9 350.9,503.1 351.5,502.3 352.1,501.4 352.7,500.4 353.3,499.4 353.9,498.3 354.5,497.1 355.1,495.9 355.7,494.6 356.3,493.2 356.9,491.9 357.5,490.5 358.1,489.1 358.7,487.7 359.3,486.4 359.9,485.1 360.5,483.8 361.1,482.7 361.7,481.7 362.3,480.7 362.9,479.9 363.5,479.3 364.1,478.8 364.7,478.5 365.3,478.4 365.9,478.5 366.5,478.7 367.1,479.2 367.7,479.7 368.3,480.5 368.9,481.4 369.5,482.4 370.1,483.5 370.7,484.7 371.3,486.0 371.9,487.3 372.5,488.7 373.1,490.1 373.7,491.5 374.3,492.8 374.9,494.2 375.5,495.5 376.1,496.7 376.7,497.9 377.3,499.1 377.9,500.1 378.5,501.1 379.1,502.1 379.7,502.9 380.3,503.7 380.9,504.4 381.5,505.0 382.1,505.6 382.7,506.1 383.3,506.5 383.9,506.9 384.5,507.2 385.1,507.5 385.7,507.8 386.3,508.0 386.9,508.2 387.5,508.4 388.1,508.5 388.7,508.6 389.3,508.7 389.9,508.8 390.5,508.9 391.1,508.9 391.7,509.0 392.3,509.0 392.9,509.0 393.5,509.1 394.1,509.1 394.7,509.1 395.3,509.1 395.9,509.2 396.5,509.2 397.1,509.2 397.7,509.2 398.3,509.2 398.9,509.2 399.5,509.2 400.1,509.2 400.7,509.2 401.3,509.2 401.9,509.2 402.5,509.3 403.1,509.3 403.7,509.3 404.3,509.3 404.9,509.3 405.5,509.3 406.1,509.3 406.7,509.3 407.3,509.3 407.9,509.3 408.5,509.3 409.1,509.3 409.7,509.3 410.3,509.3 410.9,509.3 411.5,509.3 412.1,509.3 412.7,509.3 413.3,509.3 413.9,509.3 414.5,509.3 415.1,509.3 415.7,509.3 416.3,509.3 416.9,509.3 417.5,509.3 418.1,509.3 418.7,509.3 419.3,509.3 419.9,509.4 420.5,509.4 421.1,509.4 421.7,509.4 422.3,509.4 422.9,509.4 423.5,509.4 424.1,509.4 424.7,509.4 425.3,509.4 425.9,509.4 426.5,509.4 427.1,509.4 427.7,509.4 428.3,509.4 428.9,509.4 429.5,509.4 430.1,509.4 430.7,509.4 431.3,509.4 431.9,509.4 432.5,509.4 433.1,509.4 433.7,509.4 434.3,509.4 434.9,509.4 435.5,509.4 436.1,509.4 436.7,509.4 437.3,509.4 437.9,509.4 438.5,509.4 439.1,509.4 439.7,509.4 440.3,509.4 440.9,509.4 441.5,509.4 442.1,509.4 442.7,509.4 443.3,509.4 443.9,509.4 444.5,509.4 445.1,509.4 445.7,509.4 446.3,509.4 446.9,509.4 447.5,509.4 448.1,509.4 448.7,509.4 449.3,509.4 449.9,509.4 450.5,509.4 451.1,509.4 451.7,509.4 452.3,509.4 452.9,509.4 453.5,509.4 454.1,509.4 454.7,509.4 455.3,509.4 455.9,509.4 456.5,509.4 457.1,509.4 457.7,509.4 458.3,509.4 458.9,509.4 459.5,509.4 460.1,509.4 460.7,509.4 461.3,509.4 461.9,509.4 462.5,509.4 463.6,509.4" stroke="#c8c070" stroke-width="1.0" fill="none" stroke-linejoin="round" opacity="1"/>
<path d="M314.3,507.3 314.9,507.3 315.5,507.3 316.1,507.3 316.7,507.2 317.3,507.2 317.9,507.2 318.5,507.2 319.1,507.1 319.7,507.1 320.3,507.1 320.9,507.0 321.5,507.0 322.1,507.0 322.7,506.9 323.3,506.9 323.9,506.9 324.5,506.9 325.1,506.8 325.7,506.8 326.3,506.7 326.9,506.7 327.5,506.7 328.1,506.6 328.7,506.6 329.3,506.6 329.9,506.5 330.5,506.5 331.1,506.4 331.7,506.4 332.3,506.3 332.9,506.3 333.5,506.3 334.1,506.2 334.7,506.2 335.3,506.1 335.9,506.1 336.5,506.0 337.1,506.0 337.7,505.9 338.3,505.9 338.9,505.8 339.5,505.7 340.1,505.7 340.7,505.6 341.3,505.6 341.9,505.5 342.5,505.4 343.1,505.4 343.7,505.3 344.3,505.2 344.9,505.2 345.5,505.1 346.1,505.0 346.7,505.0 347.3,504.9 347.9,504.8 348.5,504.7 349.1,504.6 349.7,504.6 350.3,504.5 350.9,504.4 351.5,504.3 352.1,504.2 352.7,504.1 353.3,504.0 353.9,503.9 354.5,503.8 355.1,503.7 355.7,503.6 356.3,503.4 356.9,503.3 357.5,503.2 358.1,503.1 358.7,502.9 359.3,502.8 359.9,502.7 360.5,502.5 361.1,502.4 361.7,502.2 362.3,502.1 362.9,501.9 363.5,501.7 364.1,501.5 364.7,501.3 365.3,501.2 365.9,501.0 366.5,500.7 367.1,500.5 367.7,500.3 368.3,500.1 368.9,499.8 369.5,499.5 370.1,499.3 370.7,499.0 371.3,498.7 371.9,498.4 372.5,498.1 373.1,497.7 373.7,497.3 374.3,497.0 374.9,496.6 375.5,496.1 376.1,495.7 376.7,495.2 377.3,494.7 377.9,494.2 378.5,493.7 379.1,493.1 379.7,492.5 380.3,491.8 380.9,491.2 381.5,490.4 382.1,489.7 382.7,488.9 383.3,488.1 383.9,487.2 384.5,486.3 385.1,485.3 385.7,484.3 386.3,483.2 386.9,482.1 387.5,480.9 388.1,479.7 388.7,478.4 389.3,477.0 389.9,475.6 390.5,474.1 391.1,472.6 391.7,471.0 392.3,469.3 392.9,467.6 393.5,465.8 394.1,463.9 394.7,462.0 395.3,460.0 395.9,457.9 396.5,455.8 397.1,453.6 397.7,451.4 398.3,449.1 398.9,446.7 399.5,444.3 400.1,441.9 400.7,439.4 401.3,436.9 401.9,434.4 402.5,431.9 403.1,429.3 403.7,426.8 404.3,424.3 404.9,421.9 405.5,419.5 406.1,417.1 406.7,414.9 407.3,412.8 407.9,410.8 408.5,408.9 409.1,407.2 409.7,405.7 410.3,404.4 410.9,403.3 411.5,402.4 412.1,401.8 412.7,401.4 413.3,401.2 413.9,401.3 414.5,401.5 415.1,401.8 415.7,402.3 416.3,402.9 416.9,403.6 417.5,404.5 418.1,405.4 418.7,406.5 419.3,407.8 419.9,409.1 420.5,410.5 421.1,412.1 421.7,413.7 422.3,415.5 422.9,417.3 423.5,419.2 424.1,421.2 424.7,423.2 425.3,425.3 425.9,427.4 426.5,429.6 427.1,431.9 427.7,434.1 428.3,436.4 428.9,438.7 429.5,441.1 430.1,443.4 430.7,445.7 431.3,448.1 431.9,450.4 432.5,452.7 433.1,455.0 433.7,457.2 434.3,459.5 434.9,461.7 435.5,463.8 436.1,465.9 436.7,468.0 437.3,470.0 437.9,472.0 438.5,473.9 439.1,475.8 439.7,477.6 440.3,479.3 440.9,481.0 441.5,482.6 442.1,484.2 442.7,485.7 443.3,487.1 443.9,488.5 444.5,489.8 445.1,491.1 445.7,492.3 446.3,493.4 446.9,494.5 447.5,495.5 448.1,496.5 448.7,497.4 449.3,498.3 449.9,499.1 450.5,499.9 451.1,500.6 451.7,501.3 452.3,501.9 452.9,502.5 453.5,503.1 454.1,503.6 454.7,504.1 455.3,504.6 455.9,505.0 456.5,505.4 457.1,505.7 457.7,506.0 458.3,506.4 458.9,506.6 459.5,506.9 460.1,507.1 460.7,507.3 461.3,507.5 461.9,507.7 462.5,507.9 463.6,508.2" stroke="#7a8a80" stroke-width="1.0" fill="none" stroke-linejoin="round" opacity="1"/>
<path d="M314.3,509.4 314.9,509.4 315.5,509.4 316.1,509.4 316.7,509.4 317.3,509.4 317.9,509.4 318.5,509.4 319.1,509.4 319.7,509.4 320.3,509.4 320.9,509.4 321.5,509.4 322.1,509.4 322.7,509.4 323.3,509.4 323.9,509.4 324.5,509.4 325.1,509.4 325.7,509.4 326.3,509.4 326.9,509.4 327.5,509.4 328.1,509.4 328.7,509.4 329.3,509.4 329.9,509.4 330.5,509.4 331.1,509.4 331.7,509.4 332.3,509.4 332.9,509.4 333.5,509.4 334.1,509.4 334.7,509.4 335.3,509.4 335.9,509.4 336.5,509.4 337.1,509.4 337.7,509.4 338.3,509.4 338.9,509.3 339.5,509.3 340.1,509.3 340.7,509.3 341.3,509.3 341.9,509.3 342.5,509.3 343.1,509.3 343.7,509.3 344.3,509.3 344.9,509.3 345.5,509.3 346.1,509.3 346.7,509.3 347.3,509.3 347.9,509.3 348.5,509.3 349.1,509.3 349.7,509.3 350.3,509.3 350.9,509.3 351.5,509.3 352.1,509.3 352.7,509.3 353.3,509.3 353.9,509.3 354.5,509.3 355.1,509.3 355.7,509.3 356.3,509.2 356.9,509.2 357.5,509.2 358.1,509.2 358.7,509.2 359.3,509.2 359.9,509.2 360.5,509.2 361.1,509.2 361.7,509.2 362.3,509.2 362.9,509.2 363.5,509.1 364.1,509.1 364.7,509.1 365.3,509.1 365.9,509.1 366.5,509.0 367.1,509.0 367.7,508.9 368.3,508.9 368.9,508.8 369.5,508.7 370.1,508.6 370.7,508.5 371.3,508.3 371.9,508.1 372.5,507.8 373.1,507.5 373.7,507.1 374.3,506.6 374.9,505.9 375.5,505.2 376.1,504.3 376.7,503.3 377.3,502.1 377.9,500.7 378.5,499.0 379.1,497.2 379.7,495.0 380.3,492.6 380.9,490.0 381.5,487.0 382.1,483.8 382.7,480.4 383.3,476.7 383.9,472.8 384.5,468.7 385.1,464.5 385.7,460.2 386.3,455.9 386.9,451.6 387.5,447.5 388.1,443.5 388.7,439.9 389.3,436.5 389.9,433.6 390.5,431.2 391.1,429.3 391.7,428.0 392.3,427.3 392.9,427.2 393.5,427.8 394.1,429.0 394.7,430.8 395.3,433.1 395.9,436.0 396.5,439.2 397.1,442.8 397.7,446.7 398.3,450.9 398.9,455.1 399.5,459.4 400.1,463.7 400.7,467.9 401.3,472.0 401.9,476.0 402.5,479.7 403.1,483.2 403.7,486.5 404.3,489.5 404.9,492.2 405.5,494.6 406.1,496.8 406.7,498.7 407.3,500.4 407.9,501.8 408.5,503.1 409.1,504.2 409.7,505.1 410.3,505.8 410.9,506.4 411.5,507.0 412.1,507.4 412.7,507.7 413.3,508.0 413.9,508.3 414.5,508.4 415.1,508.6 415.7,508.7 416.3,508.8 416.9,508.9 417.5,508.9 418.1,509.0 418.7,509.0 419.3,509.1 419.9,509.1 420.5,509.1 421.1,509.1 421.7,509.1 422.3,509.1 422.9,509.2 423.5,509.2 424.1,509.2 424.7,509.2 425.3,509.2 425.9,509.2 426.5,509.2 427.1,509.2 427.7,509.2 428.3,509.2 428.9,509.2 429.5,509.3 430.1,509.3 430.7,509.3 431.3,509.3 431.9,509.3 432.5,509.3 433.1,509.3 433.7,509.3 434.3,509.3 434.9,509.3 435.5,509.3 436.1,509.3 436.7,509.3 437.3,509.3 437.9,509.3 438.5,509.3 439.1,509.3 439.7,509.3 440.3,509.3 440.9,509.3 441.5,509.3 442.1,509.3 442.7,509.3 443.3,509.3 443.9,509.3 444.5,509.3 445.1,509.3 445.7,509.3 446.3,509.3 446.9,509.4 447.5,509.4 448.1,509.4 448.7,509.4 449.3,509.4 449.9,509.4 450.5,509.4 451.1,509.4 451.7,509.4 452.3,509.4 452.9,509.4 453.5,509.4 454.1,509.4 454.7,509.4 455.3,509.4 455.9,509.4 456.5,509.4 457.1,509.4 457.7,509.4 458.3,509.4 458.9,509.4 459.5,509.4 460.1,509.4 460.7,509.4 461.3,509.4 461.9,509.4 462.5,509.4 463.6,509.4" stroke="#b848aa" stroke-width="1.2" fill="none" stroke-linejoin="round" opacity="1"/>
<path d="M300.7,497.6 302.2,502.7 303.7,497.0 305.2,503.2 306.7,497.2 308.2,503.1 309.7,499.4 312.5,501.9 314.3,498.8 314.6,506.6" stroke="#222222" stroke-width="0.9" fill="none" stroke-linejoin="round" opacity="1"/>
<path d="M314.3,506.9 314.9,506.9 315.5,506.8 316.1,506.8 316.7,506.7 317.3,506.7 317.9,506.6 318.5,506.6 319.1,506.5 319.7,506.5 320.3,506.5 320.9,506.4 321.5,506.3 322.1,506.3 322.7,506.2 323.3,506.2 323.9,506.1 324.5,506.0 325.1,505.9 325.7,505.8 326.3,505.7 326.9,505.6 327.5,505.5 328.1,505.4 328.7,505.3 329.3,505.2 329.9,505.2 330.5,505.1 331.1,505.0 331.7,504.9 332.3,504.8 332.9,504.7 333.5,504.6 334.1,504.5 334.7,504.4 335.3,504.2 335.9,504.1 336.5,503.9 337.1,503.7 337.7,503.5 338.3,503.2 338.9,503.0 339.5,502.7 340.1,502.4 340.7,502.1 341.3,501.7 341.9,501.3 342.5,500.9 343.1,500.5 343.7,500.1 344.3,499.6 344.9,499.1 345.5,498.6 346.1,498.0 346.7,497.4 347.3,496.8 347.9,496.2 348.5,495.5 349.1,494.8 349.7,494.1 350.3,493.4 350.9,492.6 351.5,491.7 352.1,490.8 352.7,489.8 353.3,488.8 353.9,487.6 354.5,486.4 355.1,485.2 355.7,484.0 356.3,482.7 356.9,481.5 357.5,480.4 358.1,479.3 358.7,478.2 359.3,477.2 359.9,476.1 360.5,474.9 361.1,473.8 361.7,472.6 362.3,471.6 362.9,470.6 363.5,469.7 364.1,469.0 364.7,468.4 365.3,468.0 365.9,467.8 366.5,467.9 367.1,468.1 367.7,468.5 368.3,469.0 368.9,469.6 369.5,470.2 370.1,470.8 370.7,471.4 371.3,472.0 371.9,472.6 372.5,473.4 373.1,474.2 373.7,475.0 374.3,475.8 374.9,476.4 375.5,476.8 376.1,477.0 376.7,476.8 377.3,475.7 377.9,473.9 378.5,471.5 379.1,468.8 379.7,465.8 380.3,462.6 380.9,459.0 381.5,455.3 382.1,451.3 382.7,447.0 383.3,442.6 383.9,437.9 384.5,433.1 385.1,428.0 385.7,421.8 386.3,415.1 386.9,408.6 387.5,403.2 388.1,399.4 388.7,396.1 389.3,393.3 389.9,391.0 390.5,389.1 391.1,387.6 391.7,386.5 392.3,385.8 392.9,385.5 393.5,385.6 394.1,386.6 394.7,388.3 395.3,390.4 395.9,392.7 396.5,394.9 397.1,396.8 397.7,398.5 398.3,400.3 398.9,402.3 399.5,404.2 400.1,406.1 400.7,407.7 401.3,409.0 401.9,410.0 402.5,410.4 403.1,410.3 403.7,410.0 404.3,409.3 404.9,408.5 405.5,407.5 406.1,406.5 406.7,405.5 407.3,404.6 407.9,403.8 408.5,403.2 409.1,402.6 409.7,402.0 410.3,401.4 410.9,400.8 411.5,400.4 412.1,400.0 412.7,399.7 413.3,399.6 413.9,399.6 414.5,399.9 415.1,400.4 415.7,401.1 416.3,402.0 416.9,403.1 417.5,404.3 418.1,405.6 418.7,407.1 419.3,408.6 419.9,410.4 420.5,412.4 421.1,414.6 421.7,416.9 422.3,419.3 422.9,421.6 423.5,423.9 424.1,426.2 424.7,428.2 425.3,430.3 425.9,432.3 426.5,434.3 427.1,436.3 427.7,438.3 428.3,440.3 428.9,442.3 429.5,444.3 430.1,446.4 430.7,448.5 431.3,450.7 431.9,452.9 432.5,455.1 433.1,457.3 433.7,459.4 434.3,461.5 434.9,463.5 435.5,465.3 436.1,467.1 436.7,468.8 437.3,470.4 437.9,471.9 438.5,473.4 439.1,474.9 439.7,476.3 440.3,477.7 440.9,479.0 441.5,480.3 442.1,481.6 442.7,482.8 443.3,483.9 443.9,485.1 444.5,486.2 445.1,487.3 445.7,488.4 446.3,489.5 446.9,490.7 447.5,491.8 448.1,493.0 448.7,494.1 449.3,495.2 449.9,496.3 450.5,497.3 451.1,498.2 451.7,499.0 452.3,499.8 452.9,500.5 453.5,501.1 454.1,501.7 454.7,502.3 455.3,502.8 455.9,503.3 456.5,503.8 457.1,504.2 457.7,504.6 458.3,505.1 458.9,505.5 459.5,505.9 460.1,506.4 460.7,506.9 461.3,507.4 461.9,507.9 462.5,508.4 463.6,509.6" stroke="#d87a6a" stroke-width="1.2" fill="none" stroke-linejoin="round" opacity="1"/>
<path d="M315.1,506.9 316.9,505.6 319.0,499.9 321.3,490.3 322.8,503.3 323.6,494.6 325.7,504.8 327.5,496.0 328.6,505.6 329.8,502.2 330.9,503.2 333.2,492.5 334.2,499.8 335.0,492.3 337.1,499.1 339.0,482.1 341.1,492.3 342.4,494.8 343.5,494.8 345.8,493.9 347.5,486.4 349.6,484.5 350.5,490.7 351.8,488.4 353.1,486.0 355.0,480.9 357.4,482.0 359.2,479.1 360.0,475.2 362.2,465.0 364.0,468.9 365.0,469.0 367.5,473.0 369.1,464.4 370.5,472.5 372.9,468.5 373.8,478.7 375.2,469.6 377.0,477.5 378.3,465.6 379.5,460.5 380.3,463.2 381.8,456.8 383.2,437.7 384.5,426.3 386.9,403.7 388.0,393.3 389.9,395.2 392.0,380.7 393.8,389.5 394.6,383.6 395.7,397.6 397.3,395.0 398.5,403.3 400.1,400.8 401.2,407.1 402.5,411.1 403.9,402.4 405.5,410.7 407.7,397.8 409.1,406.0 411.4,403.9 413.7,397.2 415.5,404.4 416.9,399.9 419.3,413.9 421.0,407.1 422.5,424.1 423.7,417.2 425.2,432.6 426.0,423.8 428.1,437.9 430.5,436.3 432.3,456.7 434.4,450.8 435.6,465.7 437.7,464.4 439.2,461.3 440.0,476.6 441.9,470.7 443.3,487.1 444.6,483.1 446.5,481.0 448.8,494.4 450.4,489.3 452.5,498.1 454.6,495.4 457.0,488.4 459.2,507.2 461.1,498.3 462.2,507.7 463.6,509.6" stroke="#222222" stroke-width="0.9" fill="none" stroke-linejoin="round" opacity="1"/>
<path d="M290.9 384.9H301.4" stroke="none" stroke-width="1.3"/>
<text transform="translate(304.7,387.9) scale(1,1.06)" font-size="8.5" text-anchor="start" font-weight="bold" fill="#1a1a1a" font-family='"Liberation Sans", sans-serif' >Raw Intensity</text>
<path d="M290.9 396.4H301.4" stroke="#e8a8a0" stroke-width="1.3"/>
<text transform="translate(304.7,399.4) scale(1,1.06)" font-size="8.5" text-anchor="start" font-weight="bold" fill="#1a1a1a" font-family='"Liberation Sans", sans-serif' >Peak Sum</text>
<path d="M290.9 407.8H301.4" stroke="#c4c4dc" stroke-width="1.3"/>
<text transform="translate(304.7,410.8) scale(1,1.06)" font-size="8.5" text-anchor="start" font-weight="bold" fill="#1a1a1a" font-family='"Liberation Sans", sans-serif' >Background</text>
<path d="M290.9 419.3H301.4" stroke="#8a9898" stroke-width="1.3"/>
<text transform="translate(304.7,422.3) scale(1,1.06)" font-size="8.5" text-anchor="start" font-weight="bold" fill="#1a1a1a" font-family='"Liberation Sans", sans-serif' >Peak 1</text>
<path d="M290.9 430.7H301.4" stroke="#b868b0" stroke-width="1.3"/>
<text transform="translate(304.7,433.7) scale(1,1.06)" font-size="8.5" text-anchor="start" font-weight="bold" fill="#1a1a1a" font-family='"Liberation Sans", sans-serif' >Peak 2</text>
<path d="M290.9 441.7H301.4" stroke="#d4d098" stroke-width="1.3"/>
<text transform="translate(304.7,444.7) scale(1,1.06)" font-size="8.5" text-anchor="start" font-weight="bold" fill="#1a1a1a" font-family='"Liberation Sans", sans-serif' >Peak 3</text>
<path d="M287.1 385.2L291.5 385.6L294.5 386.6L297 385.4L301.4 385.1" stroke="#111" stroke-width="1.3" fill="none"/>
<text transform="translate(404.0,386.2) scale(1,1.06)" font-size="8" text-anchor="start" font-weight="bold" fill="#1a1a1a" font-family='"Liberation Sans", sans-serif' >Ho 4d</text>
<path d="M408.1 388.6L412.2 396.6" stroke="#111" stroke-width="0.9"/>
<path d="M413.6 399.5L410.7 397.4L413.6 395.9Z" fill="#111"/>
<text transform="translate(383.6,417.4) scale(1,1.06)" font-size="8" text-anchor="end" font-weight="bold" fill="#1a1a1a" font-family='"Liberation Sans", sans-serif' >Ho 4d</text>
<path d="M383.6 418.6L389.6 425.0" stroke="#111" stroke-width="0.9"/>
<path d="M391.8 427.3L388.4 426.1L390.8 423.9Z" fill="#111"/>
<text transform="translate(343.9,462.4) scale(1,1.06)" font-size="8" text-anchor="start" font-weight="bold" fill="#1a1a1a" font-family='"Liberation Sans", sans-serif' >Ho 4d</text>
<path d="M355.4 466.3L359.7 476.2" stroke="#111" stroke-width="0.9"/>
<path d="M361 479.1L358.3 476.8L361.2 475.5Z" fill="#111"/>
</svg>
</body></html>
